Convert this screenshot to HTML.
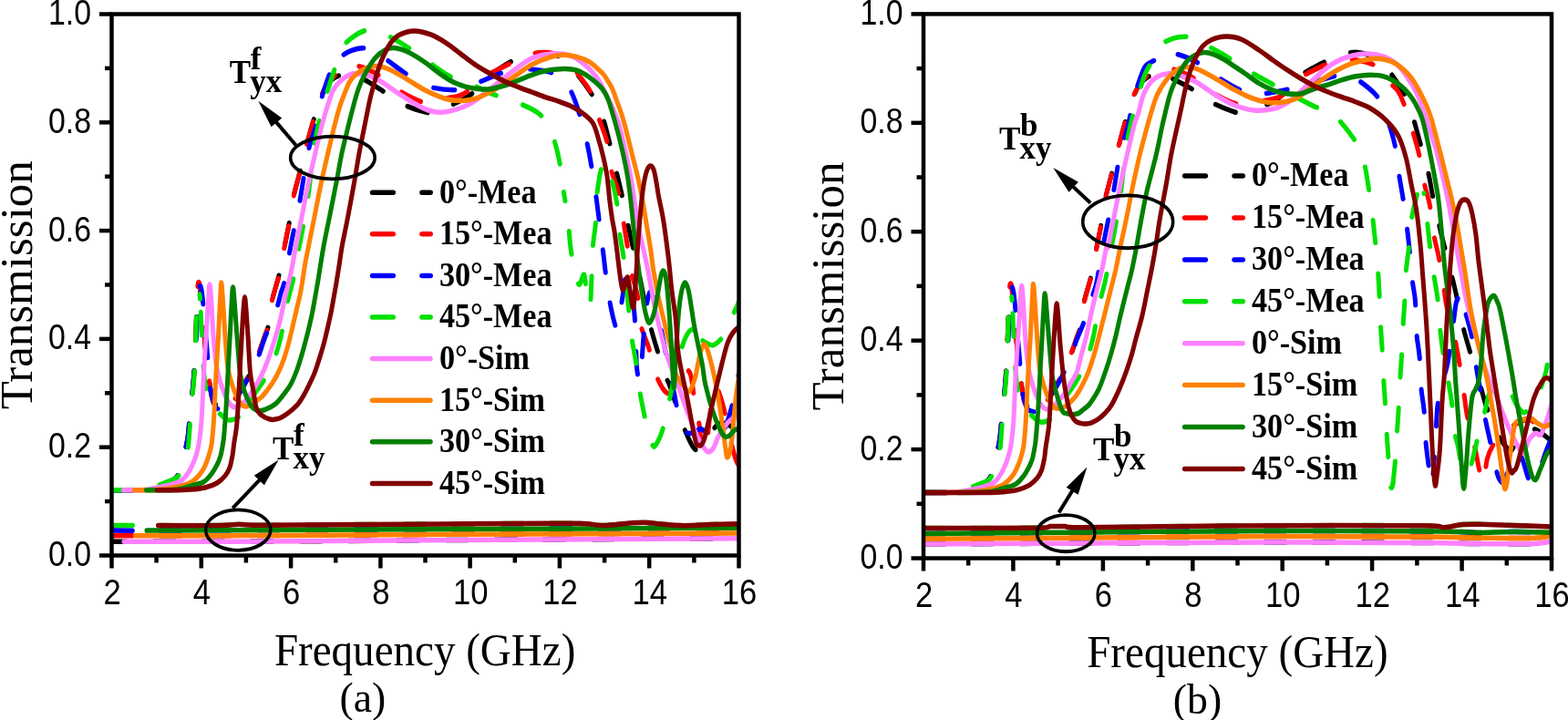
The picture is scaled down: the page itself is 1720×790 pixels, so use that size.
<!DOCTYPE html>
<html><head><meta charset="utf-8"><title>Transmission vs Frequency</title>
<style>
html,body{margin:0;padding:0;background:#fff;width:1720px;height:790px;overflow:hidden}
svg{display:block}
.tk{font-family:"Liberation Sans",Arial,sans-serif;font-size:35px;fill:#000;stroke:none}
.ti{font-family:"Liberation Serif","Times New Roman",serif;font-size:50px;fill:#000;stroke:none}
.lg{font-family:"Liberation Serif","Times New Roman",serif;font-size:34px;font-weight:bold;fill:#000}
.an{font-family:"Liberation Serif","Times New Roman",serif;font-size:35px;font-weight:bold;fill:#000}
.ln{fill:none;stroke-width:5;stroke-linecap:round;stroke-linejoin:round}
.dash{stroke-dasharray:23 30.5}
</style></head><body>
<svg width="1720" height="790" viewBox="0 0 1720 790">
<defs><clipPath id="ca"><rect x="122.5" y="15.5" width="688.0" height="594.0"/></clipPath>
<clipPath id="cb"><rect x="1013.0" y="15.4" width="689.0" height="597.1"/></clipPath></defs>
<g clip-path="url(#ca)"><g transform="scale(1,1.100)"><path id="a0" d="M122.5,488.9 C128.8,488.9 151.2,489.1 160.0,488.6 C168.8,488.2 170.5,487.7 175.0,486.4 C179.5,485.1 183.7,482.9 187.0,480.9 C190.3,478.9 192.8,477.4 195.0,474.5 C197.2,471.7 198.7,467.7 200.0,463.6 C201.3,459.5 202.0,454.5 203.0,450.0 C204.0,445.5 205.2,441.7 206.0,436.4 C206.8,431.1 207.3,424.2 208.0,418.2 C208.7,412.1 209.3,406.1 210.0,400.0 C210.7,393.9 211.4,388.6 212.0,381.8 C212.6,375.0 213.0,368.2 213.5,359.1 C214.0,350.0 214.5,337.1 215.0,327.3 C215.5,317.4 216.0,307.4 216.5,300.0 C217.0,292.6 217.4,284.2 218.0,282.7 C218.6,281.2 219.2,284.2 220.0,290.9" stroke="#000000" class="ln dash" style="stroke-dashoffset:0.3"/>
<path id="a0_1" d="M220.0,290.9 C220.8,297.6 222.0,312.1 223.0,322.7 C224.0,333.3 225.0,345.6 226.0,354.5 C227.0,363.5 227.8,369.2 229.0,376.4 C230.2,383.5 231.2,392.3 233.0,397.3 C234.8,402.3 237.5,404.7 240.0,406.4 C242.5,408.0 245.2,408.3 248.0,407.3 C250.8,406.2 253.2,404.8 257.0,400.0 C260.8,395.2 266.7,385.8 271.0,378.2 C275.3,370.6 279.8,361.5 283.0,354.5 C286.2,347.6 288.0,341.7 290.0,336.4 C292.0,331.1 293.7,328.5 295.0,322.7 C296.3,317.0 296.7,308.2 298.0,301.8 C299.3,295.5 301.7,289.1 303.0,284.5 C304.3,280.0 304.5,280.9 306.0,274.5 C307.5,268.2 310.2,254.8 312.0,246.4 C313.8,237.9 315.3,232.0 317.0,223.6 C318.7,215.3 320.5,203.3 322.0,196.4 C323.5,189.4 324.7,186.5 326.0,181.8 C327.3,177.1 328.3,174.1 330.0,168.2 C331.7,162.3 333.8,154.2 336.0,146.4 C338.2,138.5 340.8,129.3 343.5,121.3 C346.2,113.2 349.8,103.8 352.0,98.2 C354.2,92.5 355.1,90.4 357.0,87.3 C358.9,84.2 361.4,81.5 363.7,79.6 C366.0,77.7 367.5,77.0 370.7,75.8 C373.9,74.7 378.1,72.1 383.0,72.7 C387.9,73.4 394.1,76.8 400.0,79.6 C405.9,82.5 410.7,85.5 418.1,89.7 C425.5,94.0 436.5,101.3 444.6,105.0 C452.8,108.7 461.4,110.6 467.0,111.9 C472.6,113.2 473.4,113.9 478.0,112.7 C482.6,111.6 488.6,108.0 494.9,105.0 C501.2,102.0 509.4,99.3 515.8,94.8 C522.1,90.3 526.2,83.4 533.0,78.2 C539.8,73.0 550.3,67.1 556.5,63.6 C562.7,60.2 565.2,58.9 570.0,57.3 C574.8,55.6 580.0,54.4 585.0,53.6 C590.0,52.9 595.1,52.1 600.0,52.7 C604.9,53.3 609.2,54.1 614.4,57.3 C619.6,60.5 625.6,66.2 631.2,72.0 C636.8,77.8 643.9,86.8 647.9,92.3 C651.9,97.7 652.7,100.1 655.0,104.5 C657.3,109.0 659.6,112.6 661.9,119.1 C664.2,125.6 666.6,135.0 669.0,143.6 C671.4,152.3 673.8,162.6 676.0,170.9 C678.2,179.2 680.0,185.2 682.0,193.6 C684.0,202.1 686.2,212.8 688.3,221.6 C690.3,230.5 692.3,238.8 694.3,246.5 C696.2,254.3 698.0,260.0 700.0,268.2 C702.0,276.3 703.8,285.9 706.0,295.5 C708.2,305.0 711.1,316.7 713.5,325.5 C715.9,334.2 717.8,339.7 720.6,348.0 C723.4,356.3 728.1,369.4 730.4,375.5 C732.7,381.5 732.7,379.7 734.6,384.5 C736.5,389.4 739.5,397.8 742.0,404.5 C744.5,411.3 746.5,418.2 749.4,424.8 C752.3,431.4 756.6,440.4 759.2,444.3 C761.8,448.2 762.4,449.2 765.0,448.2 C767.6,447.2 771.7,442.0 775.0,438.2 C778.3,434.4 782.2,428.2 785.0,425.5 C787.8,422.7 789.2,421.8 792.0,421.8 C794.8,421.8 798.8,423.3 802.0,425.5 C805.2,427.6 809.5,433.0 811.0,434.5" stroke="#000000" class="ln dash" style="stroke-dashoffset:15.6"/>
<path id="a1" d="M122.5,488.9 C128.8,488.9 151.2,489.1 160.0,488.6 C168.8,488.2 170.5,487.7 175.0,486.4 C179.5,485.1 183.7,482.9 187.0,480.9 C190.3,478.9 192.8,477.4 195.0,474.5 C197.2,471.7 198.7,467.7 200.0,463.6 C201.3,459.5 202.0,454.5 203.0,450.0 C204.0,445.5 205.2,441.7 206.0,436.4 C206.8,431.1 207.3,424.2 208.0,418.2 C208.7,412.1 209.3,406.1 210.0,400.0 C210.7,393.9 211.4,388.6 212.0,381.8 C212.6,375.0 213.0,368.2 213.5,359.1 C214.0,350.0 214.6,337.1 215.0,327.3 C215.4,317.4 215.6,307.6 216.0,300.0 C216.4,292.4 216.8,283.3 217.5,281.8 C218.2,280.3 219.1,284.1 220.0,290.9" stroke="#ff0000" class="ln dash" style="stroke-dashoffset:0.3"/>
<path id="a1_1" d="M220.0,290.9 C220.9,297.7 222.0,312.1 223.0,322.7 C224.0,333.3 225.0,345.6 226.0,354.5 C227.0,363.5 227.8,368.9 229.0,376.4 C230.2,383.8 231.2,393.9 233.0,399.1 C234.8,404.2 237.5,405.8 240.0,407.3 C242.5,408.8 245.2,409.5 248.0,408.2 C250.8,406.8 253.2,404.2 257.0,399.1 C260.8,393.9 266.7,384.8 271.0,377.3 C275.3,369.7 279.8,360.5 283.0,353.6 C286.2,346.8 288.0,341.5 290.0,336.4 C292.0,331.2 293.7,328.5 295.0,322.7 C296.3,317.0 296.7,308.2 298.0,301.8 C299.3,295.5 301.7,289.1 303.0,284.5 C304.3,280.0 304.5,280.9 306.0,274.5 C307.5,268.2 310.2,254.8 312.0,246.4 C313.8,237.9 315.3,232.0 317.0,223.6 C318.7,215.3 320.5,203.3 322.0,196.4 C323.5,189.4 324.7,186.5 326.0,181.8 C327.3,177.1 328.3,174.2 330.0,168.2 C331.7,162.2 333.8,153.8 336.0,146.0 C338.2,138.2 341.1,128.9 343.5,121.3 C345.9,113.6 348.4,105.4 350.5,100.0 C352.6,94.6 353.4,93.0 356.0,89.1 C358.6,85.2 362.3,80.3 366.0,76.4 C369.7,72.4 373.7,67.2 378.0,65.5 C382.3,63.7 386.1,64.4 391.6,65.6 C397.1,66.8 403.5,68.5 411.2,72.6 C418.9,76.8 429.3,85.6 437.7,90.4 C446.1,95.1 455.2,99.1 461.4,101.2 C467.6,103.2 470.1,103.3 475.0,102.7 C479.9,102.2 485.1,99.5 490.7,98.0 C496.3,96.5 501.7,97.2 508.8,93.5 C515.9,89.8 525.4,80.7 533.5,75.8 C541.6,71.0 550.8,67.5 557.2,64.4 C563.6,61.3 566.5,59.2 572.0,57.3 C577.5,55.3 584.0,53.3 590.0,52.7 C596.0,52.1 602.7,52.3 608.0,53.6 C613.3,55.0 617.3,57.1 622.0,60.9 C626.7,64.7 631.7,71.1 636.0,76.4 C640.3,81.6 644.6,85.6 648.0,92.3 C651.4,99.0 653.3,108.2 656.3,116.5 C659.3,124.7 663.7,133.2 666.0,141.8 C668.3,150.5 668.1,160.0 670.2,168.5 C672.3,176.9 676.1,182.8 678.6,192.6 C681.1,202.4 683.3,217.7 685.0,227.3 C686.7,236.8 687.8,242.8 689.0,250.0 C690.2,257.2 690.5,263.2 692.2,270.6 C693.9,278.1 697.5,286.0 699.3,294.8 C701.1,303.7 700.7,315.1 702.8,323.8 C704.9,332.5 708.9,338.8 711.7,347.2 C714.5,355.5 716.7,366.8 719.7,374.0 C722.7,381.2 726.7,387.6 729.6,390.5 C732.5,393.3 734.3,393.3 737.0,390.9 C739.7,388.6 743.5,380.0 746.0,376.4 C748.5,372.7 750.1,369.5 752.0,369.1 C753.9,368.7 756.0,369.2 757.6,374.0 C759.2,378.8 760.1,389.2 761.7,397.9 C763.4,406.6 766.2,417.9 767.5,426.4 C768.8,434.8 768.7,444.6 769.5,448.8 C770.3,453.1 771.5,452.6 772.5,451.8 C773.5,451.1 774.9,448.5 775.7,444.3 C776.5,440.0 776.2,435.0 777.3,426.4 C778.3,417.8 780.7,399.5 782.0,392.7 C783.3,385.9 783.9,385.6 785.0,385.5 C786.1,385.3 787.3,388.3 788.8,391.9 C790.3,395.5 792.1,400.7 793.8,406.9 C795.5,413.1 797.6,423.4 799.0,429.1 C800.4,434.8 800.7,436.5 802.0,441.3 C803.3,446.0 805.4,453.7 806.9,457.7 C808.4,461.8 810.3,464.2 811.0,465.5" stroke="#ff0000" class="ln dash" style="stroke-dashoffset:17.1"/>
<path id="a2" d="M122.5,488.9 C128.8,488.9 151.2,489.1 160.0,488.6 C168.8,488.2 170.5,487.7 175.0,486.4 C179.5,485.1 183.7,482.9 187.0,480.9 C190.3,478.9 192.8,477.4 195.0,474.5 C197.2,471.7 198.7,467.7 200.0,463.6 C201.3,459.5 202.0,454.5 203.0,450.0 C204.0,445.5 205.2,441.7 206.0,436.4 C206.8,431.1 207.3,424.2 208.0,418.2 C208.7,412.1 209.3,406.1 210.0,400.0 C210.7,393.9 211.3,388.6 212.0,381.8 C212.7,375.0 213.3,368.2 214.0,359.1 C214.7,350.0 215.4,337.1 216.0,327.3 C216.6,317.4 216.9,307.0 217.5,300.0 C218.1,293.0 218.8,286.2 219.5,285.5" stroke="#0000ff" class="ln dash" style="stroke-dashoffset:0.3"/>
<path id="a2_1" d="M219.5,285.5 C220.2,284.7 221.1,288.5 222.0,295.5 C222.9,302.4 224.0,316.7 225.0,327.3 C226.0,337.9 227.2,349.5 228.0,359.1 C228.8,368.6 229.0,377.7 230.0,384.5 C231.0,391.4 232.7,396.2 234.0,400.0 C235.3,403.8 235.7,405.9 238.0,407.3 C240.3,408.6 244.8,409.4 248.0,408.2 C251.2,407.0 253.2,404.8 257.0,400.0 C260.8,395.2 266.7,386.4 271.0,379.1" stroke="#0000ff" class="ln dash" style="stroke-dashoffset:4.4"/>
<path id="a2_2" d="M271.0,379.1 C275.3,371.8 279.8,363.2 283.0,356.4 C286.2,349.5 287.7,343.8 290.0,338.2 C292.3,332.6 294.7,328.0 297.0,322.7 C299.3,317.4 302.2,311.4 304.0,306.4 C305.8,301.4 306.7,297.0 308.0,292.7 C309.3,288.5 310.5,287.3 312.0,280.9 C313.5,274.5 315.4,262.7 317.1,254.3 C318.8,245.8 320.3,238.8 322.2,230.2 C324.1,221.6 326.8,210.6 328.5,202.5 C330.2,194.5 330.6,190.7 332.3,181.8 C334.0,173.0 336.2,158.7 338.5,149.5 C340.8,140.2 343.8,134.9 346.1,126.5 C348.5,118.0 350.2,106.9 352.6,98.6 C355.0,90.4 358.0,82.6 360.2,77.1 C362.4,71.6 363.6,69.0 366.0,65.5" stroke="#0000ff" class="ln dash" style="stroke-dashoffset:24.9"/>
<path id="a2_3" d="M366.0,65.5 C368.4,62.0 371.7,58.6 374.9,56.1 C378.1,53.6 381.1,51.8 385.0,50.5 C388.9,49.1 394.4,47.8 398.6,47.9 C402.8,48.0 405.8,49.0 410.0,50.9 C414.2,52.8 417.9,55.5 423.7,59.3 C429.5,63.0 438.6,69.5 444.6,73.3 C450.7,77.0 455.1,79.5 460.0,81.8" stroke="#0000ff" class="ln dash" style="stroke-dashoffset:37.9"/>
<path id="a2_4" d="M460.0,81.8 C464.9,84.2 467.7,86.0 474.0,87.3 C480.3,88.6 491.7,89.7 497.7,89.7 C503.7,89.7 505.4,88.5 510.0,87.3 C514.6,86.0 518.6,84.4 525.1,82.1 C531.6,79.8 542.1,75.4 548.8,73.3 C555.4,71.1 559.9,69.8 565.0,69.1" stroke="#0000ff" class="ln dash" style="stroke-dashoffset:36.6"/>
<path id="a2_5" d="M565.0,69.1 C570.1,68.3 573.1,68.3 579.5,68.8 C585.9,69.3 597.4,70.4 603.3,72.0 C609.2,73.6 611.3,75.2 615.0,78.2 C618.7,81.1 622.2,84.0 625.6,89.7 C629.0,95.5 632.3,103.9 635.3,112.5" stroke="#0000ff" class="ln dash" style="stroke-dashoffset:36.6"/>
<path id="a2_6" d="M635.3,112.5 C638.3,121.2 641.5,133.1 643.7,141.8 C645.9,150.5 647.0,156.1 648.6,164.7 C650.2,173.4 652.1,184.7 653.5,193.6 C654.9,202.5 655.6,208.0 657.0,218.2 C658.4,228.3 660.8,245.9 662.0,254.5 C663.2,263.2 663.0,262.8 664.0,270.0 C665.0,277.2 666.7,289.6 668.3,298.0 C669.9,306.4 672.1,315.7 673.6,320.5 C675.1,325.4 675.9,328.4 677.0,327.3 C678.1,326.1 679.0,318.9 680.0,313.6 C681.0,308.3 682.0,301.5 683.0,295.5 C684.0,289.4 685.0,280.8 686.0,277.3 C687.0,273.8 688.0,272.3 689.0,274.5 C690.0,276.8 690.9,284.7 692.0,290.9 C693.1,297.1 694.9,303.1 695.8,311.8 C696.7,320.5 697.1,334.2 697.5,343.2 C697.9,352.1 697.9,359.8 698.4,365.5 C698.9,371.1 699.8,375.3 700.5,377.3 C701.2,379.2 702.1,381.1 702.8,377.0 C703.5,372.9 703.9,361.5 704.6,352.7 C705.3,344.0 706.1,333.2 707.0,324.5 C707.9,315.9 708.8,306.5 710.0,300.9 C711.2,295.3 712.5,290.3 714.0,290.9 C715.5,291.5 717.0,297.7 719.0,304.5 C721.0,311.4 723.9,323.2 725.9,331.8 C727.9,340.4 728.9,346.0 731.2,356.0 C733.5,366.0 737.6,383.4 739.5,391.9 C741.4,400.4 740.9,400.7 742.8,406.9 C744.7,413.2 748.1,425.2 751.0,429.4 C753.9,433.5 757.0,432.1 760.0,431.8 C763.0,431.6 765.9,427.2 769.1,427.8 C772.3,428.4 775.7,433.5 779.0,435.3 C782.3,437.0 785.8,440.4 788.8,438.3 C791.8,436.2 794.5,428.7 797.0,422.7 C799.5,416.7 801.8,409.5 803.7,402.4 C805.6,395.2 807.4,385.2 808.6,380.0 C809.8,374.8 810.6,372.4 811.0,370.9" stroke="#0000ff" class="ln dash" style="stroke-dashoffset:21.2"/>
<path id="a3" d="M122.5,488.9 C127.1,488.9 142.9,488.9 150.0,488.6 C157.1,488.4 161.0,488.0 165.0,487.3 C169.0,486.5 170.7,485.3 174.0,484.1 C177.3,482.9 181.7,481.3 185.0,480.0 C188.3,478.7 191.7,478.2 194.0,476.4 C196.3,474.5 197.5,472.3 199.0,469.1 C200.5,465.9 201.8,460.8 203.0,457.3 C204.2,453.8 205.2,452.0 206.0,448.2 C206.8,444.4 207.1,438.8 207.5,434.5 C207.9,430.3 208.0,428.5 208.5,422.7 C209.0,417.0 209.8,406.8 210.5,400.0 C211.2,393.2 212.0,387.1 212.5,381.8 C213.0,376.5 213.2,374.2 213.5,368.2 C213.8,362.1 214.2,354.5 214.5,345.5 C214.8,336.4 215.0,322.7 215.5,313.6 C216.0,304.5 216.8,293.5 217.5,290.9 C218.2,288.3 218.9,292.1 219.5,298.2" stroke="#00e000" class="ln dash" style="stroke-dashoffset:0.3"/>
<path id="a3_1" d="M219.5,298.2 C220.1,304.2 220.4,316.4 221.0,327.3 C221.6,338.2 222.2,353.3 223.0,363.6 C223.8,373.9 224.7,382.4 226.0,389.1 C227.3,395.8 228.8,400.0 231.0,403.6 C233.2,407.3 236.5,408.8 239.0,410.9 C241.5,413.0 243.8,415.0 246.0,416.4 C248.2,417.7 249.3,419.2 252.0,419.1 C254.7,418.9 258.3,418.8 262.0,415.5" stroke="#00e000" class="ln dash" style="stroke-dashoffset:40.2"/>
<path id="a3_2" d="M262.0,415.5 C265.7,412.1 269.5,405.0 274.0,399.1 C278.5,393.2 284.7,386.5 289.0,380.0 C293.3,373.5 296.8,367.3 300.0,360.0 C303.2,352.7 305.5,345.9 308.0,336.4 C310.5,326.8 312.7,312.6 315.0,302.7 C317.3,292.9 320.0,285.9 322.0,277.3 C324.0,268.6 325.5,259.3 327.2,250.9 C328.9,242.5 330.5,236.0 332.3,226.7 C334.1,217.5 336.6,204.5 338.0,195.5 C339.4,186.5 339.9,181.2 341.0,172.7 C342.1,164.3 343.3,153.4 344.8,144.9 C346.3,136.4 347.7,130.2 349.9,121.8 C352.1,113.4 355.3,102.9 358.0,94.5 C360.7,86.2 363.0,79.7 366.0,71.8 C369.0,63.9 372.3,53.2 376.0,47.3 C379.7,41.4 384.2,39.1 388.0,36.4 C391.8,33.6 395.3,32.0 399.0,30.9 C402.7,29.8 405.7,29.2 410.0,30.0 C414.3,30.8 419.0,32.7 425.0,35.5 C431.0,38.2 438.5,42.0 446.0,46.4 C453.5,50.8 462.3,57.0 470.0,61.8 C477.7,66.7 486.0,72.3 492.0,75.5 C498.0,78.6 501.2,79.2 506.0,80.9 C510.8,82.7 514.7,83.6 520.9,85.9 C527.1,88.2 534.9,91.8 543.3,94.8 C551.7,97.8 563.5,100.9 571.2,103.8 C578.9,106.7 584.5,108.9 589.3,112.1 C594.1,115.2 596.9,118.1 600.0,122.7 C603.1,127.4 605.7,133.4 608.0,140.0 C610.3,146.6 612.3,153.8 614.0,162.4 C615.7,171.0 616.8,182.7 618.3,191.5" stroke="#00e000" class="ln dash" style="stroke-dashoffset:31.3"/>
<path id="a3_3" d="M618.3,191.5 C619.8,200.4 621.5,206.5 622.7,215.4 C623.9,224.2 624.5,235.9 625.6,244.5 C626.7,253.2 628.3,261.4 629.5,267.3 C630.7,273.2 631.9,277.3 633.0,280.0 C634.1,282.7 634.8,284.7 636.0,283.6 C637.2,282.6 639.4,273.2 640.5,273.6 C641.6,274.0 642.0,281.4 642.8,286.1 C643.5,290.8 644.4,298.6 645.0,301.8 C645.6,305.0 646.0,305.6 646.5,305.5 C647.0,305.3 647.4,305.8 647.8,300.9 C648.2,296.1 648.6,285.3 649.0,276.4 C649.4,267.4 649.5,256.1 650.2,247.3 C650.9,238.4 652.5,231.9 653.3,223.3 C654.0,214.6 653.8,204.3 654.7,195.5 C655.7,186.6 657.5,176.0 659.0,170.4 C660.5,164.8 662.0,160.5 664.0,161.8 C666.0,163.1 668.6,171.5 670.7,178.2 C672.8,184.9 675.1,193.2 676.6,202.1 C678.1,210.9 678.3,222.4 679.5,231.3 C680.7,240.1 682.5,246.7 683.8,255.1 C685.0,263.5 686.0,273.0 687.0,281.8 C688.0,290.6 688.5,298.5 689.5,307.7 C690.5,317.0 691.7,328.4 693.0,337.3 C694.3,346.1 696.1,352.3 697.5,360.9 C698.9,369.5 700.1,380.4 701.6,389.1 C703.1,397.8 705.0,405.6 706.6,412.9 C708.2,420.2 709.4,427.5 711.0,432.7 C712.6,438.0 714.6,442.5 716.0,444.3 C717.4,446.1 717.6,446.4 719.5,443.6 C721.4,440.9 724.6,435.4 727.1,427.8 C729.6,420.2 732.5,406.8 734.6,397.9 C736.8,389.0 737.8,382.9 740.0,374.5 C742.2,366.2 745.1,354.7 747.6,347.5 C750.1,340.4 752.8,334.5 755.2,331.5 C757.6,328.4 759.7,328.0 762.0,329.1" stroke="#00e000" class="ln dash" style="stroke-dashoffset:13.9"/>
<path id="a3_4" d="M762.0,329.1 C764.3,330.2 767.0,336.1 769.0,338.2 C771.0,340.3 771.9,340.8 774.2,341.8 C776.5,342.8 779.6,345.5 783.0,344.1 C786.4,342.7 790.6,339.2 794.4,333.6 C798.2,328.1 803.0,316.3 805.8,310.7 C808.6,305.1 810.1,301.8 811.0,300.0" stroke="#00e000" class="ln dash" style="stroke-dashoffset:39.6"/>
<path id="a4" d="M122.5,524.2 C131.0,524.2 153.9,524.2 173.5,524.2 C193.1,524.2 225.2,524.3 240.0,524.1 C254.8,523.9 254.5,523.0 262.0,522.9 C269.5,522.9 262.0,523.8 285.0,523.8 C308.0,523.9 347.5,523.5 400.0,523.2 C452.5,522.9 560.0,522.2 600.0,522.1 C640.0,521.9 629.5,521.9 640.0,522.3 C650.5,522.6 654.7,524.2 663.0,524.1 C671.3,524.0 682.7,522.3 690.0,521.8 C697.3,521.3 701.2,520.9 707.0,521.1 C712.8,521.2 718.3,522.2 725.0,522.7 C731.7,523.2 737.8,524.1 747.0,524.2 C756.2,524.3 769.3,523.5 780.0,523.2 C790.7,522.9 805.8,522.7 811.0,522.5" stroke="#00e000" class="ln dash" style="stroke-dashoffset:0.0"/>
<path id="a5" d="M122.5,529.2 C128.9,529.2 131.4,529.3 161.0,529.2 C190.6,529.1 243.5,528.9 300.0,528.6 C356.5,528.4 414.8,528.1 500.0,527.7 C585.2,527.4 759.2,526.7 811.0,526.5" stroke="#0000ff" class="ln dash" style="stroke-dashoffset:0.0"/>
<path id="a6" d="M122.5,534.4 C126.8,534.4 118.9,534.4 148.5,534.4 C178.1,534.3 241.4,534.3 300.0,534.1 C358.6,533.9 414.8,533.4 500.0,533.0 C585.2,532.6 759.2,532.0 811.0,531.8" stroke="#ff0000" class="ln dash" style="stroke-dashoffset:0.0"/>
<path id="a7" d="M122.5,540.3 C124.8,540.3 106.4,540.3 136.0,540.3 C165.6,540.2 239.3,540.3 300.0,540.0 C360.7,539.7 414.8,539.1 500.0,538.6 C585.2,538.2 759.2,537.3 811.0,537.1" stroke="#000000" class="ln dash" style="stroke-dashoffset:0.0"/>
<path id="a8" d="M135.5,488.9 C139.6,488.9 154.2,489.0 160.0,488.6 C165.8,488.3 166.7,487.4 170.0,486.8 C173.3,486.2 176.7,485.7 180.0,485.0 C183.3,484.3 186.7,483.8 190.0,482.7 C193.3,481.7 197.2,480.6 200.0,478.6 C202.8,476.7 205.0,473.7 207.0,470.9 C209.0,468.1 210.7,464.5 212.0,461.8 C213.3,459.1 214.0,457.6 215.0,454.5 C216.0,451.5 217.1,448.5 218.0,443.6 C218.9,438.8 219.9,431.5 220.5,425.5 C221.1,419.4 221.3,416.1 221.8,407.3 C222.3,398.5 222.8,384.7 223.5,372.7 C224.2,360.8 225.2,347.6 226.0,335.5 C226.8,323.3 227.8,308.6 228.5,300.0 C229.2,291.4 229.4,283.6 230.0,283.6 C230.6,283.6 231.1,291.4 231.8,300.0 C232.5,308.6 233.2,325.6 234.0,335.5 C234.8,345.3 235.7,353.0 236.5,359.1 C237.3,365.2 237.6,366.7 239.0,371.8 C240.4,377.0 242.8,384.8 245.0,390.0 C247.2,395.2 249.8,400.0 252.0,402.7 C254.2,405.5 255.8,406.2 258.0,406.4 C260.2,406.5 262.2,405.9 265.0,403.6 C267.8,401.4 270.8,398.6 275.0,392.7 C279.2,386.8 285.0,379.1 290.0,368.2 C295.0,357.3 301.2,339.4 305.0,327.3 C308.8,315.2 310.7,304.5 313.0,295.5 C315.3,286.4 317.1,281.1 319.0,272.7 C320.9,264.3 322.7,254.5 324.7,245.1 C326.7,235.7 328.7,226.9 331.0,216.4 C333.3,205.8 336.1,192.6 338.6,181.8 C341.1,171.1 343.6,161.6 346.1,151.8 C348.6,142.0 351.2,131.6 353.7,123.0 C356.2,114.4 359.2,105.7 361.3,100.0 C363.4,94.3 364.2,92.1 366.0,89.1 C367.8,86.1 369.5,84.4 372.1,82.1 C374.8,79.8 378.6,76.7 381.9,75.2 C385.1,73.7 387.7,73.2 391.6,73.3 C395.6,73.4 401.0,74.3 405.6,75.8 C410.2,77.3 414.9,79.6 419.5,82.1 C424.1,84.6 427.7,87.5 433.5,91.0 C439.3,94.5 448.3,100.0 454.4,103.2 C460.5,106.3 465.1,108.5 470.0,110.0 C474.9,111.5 479.0,112.1 483.5,112.1 C488.0,112.1 492.6,111.0 497.0,110.0 C501.4,109.0 506.0,107.5 510.0,105.9 C514.0,104.3 515.6,103.8 520.9,100.5 C526.2,97.1 534.9,90.9 541.9,85.9 C548.9,81.0 555.8,75.4 562.8,70.7 C569.8,66.1 576.7,60.8 583.7,58.0 C590.7,55.2 597.6,54.1 604.6,53.6 C611.6,53.2 619.8,53.9 625.6,55.5 C631.4,57.0 634.9,59.7 639.5,63.1 C644.1,66.5 649.9,71.8 653.5,75.8 C657.1,79.8 658.9,83.8 661.0,87.3 C663.1,90.7 664.2,93.0 666.0,96.4 C667.8,99.7 669.8,102.6 672.0,107.3 C674.2,112.0 676.7,117.3 679.0,124.5 C681.3,131.8 683.8,142.1 686.0,150.9 C688.2,159.7 690.2,168.5 692.0,177.3 C693.8,186.1 695.1,195.3 696.5,203.6 C697.9,212.0 699.1,220.3 700.5,227.3 C701.9,234.2 703.2,238.2 705.0,245.5 C706.8,252.7 708.8,260.6 711.0,270.9 C713.2,281.2 716.0,296.4 718.5,307.3 C721.0,318.1 723.9,328.3 726.0,336.0 C728.1,343.7 729.3,347.9 731.1,353.3 C732.9,358.6 735.0,363.5 737.0,368.2 C739.0,372.9 739.9,374.3 742.8,381.5 C745.7,388.7 750.5,402.1 754.3,411.4 C758.1,420.6 762.2,430.3 765.8,436.8 C769.4,443.3 773.0,448.5 775.7,450.3 C778.5,452.0 780.4,449.5 782.3,447.3 C784.2,445.0 785.6,439.8 787.2,436.8 C788.8,433.8 790.0,432.2 792.1,429.4 C794.2,426.6 796.9,422.6 800.0,420.0 C803.1,417.4 809.2,414.7 811.0,413.6" stroke="#ff80ff" class="ln"/>
<path id="a9" d="M147.5,488.9 C151.2,488.9 163.8,488.9 170.0,488.6 C176.2,488.4 180.0,488.0 185.0,487.3 C190.0,486.6 195.8,485.6 200.0,484.5 C204.2,483.5 207.0,482.6 210.0,480.9 C213.0,479.2 215.7,477.0 218.0,474.5 C220.3,472.1 222.2,469.7 224.0,466.4 C225.8,463.0 227.7,458.3 229.0,454.5 C230.3,450.8 231.2,448.5 232.0,443.6 C232.8,438.8 233.5,431.5 234.0,425.5 C234.5,419.4 234.7,416.1 235.2,407.3 C235.7,398.5 236.3,384.7 237.0,372.7 C237.7,360.8 238.8,347.6 239.5,335.5 C240.2,323.3 240.9,308.9 241.5,300.0 C242.1,291.1 242.3,281.8 242.8,281.8 C243.3,281.8 243.8,291.1 244.5,300.0 C245.2,308.9 246.2,325.6 247.0,335.5 C247.8,345.3 248.3,353.0 249.0,359.1 C249.7,365.2 249.7,366.7 251.0,371.8 C252.3,377.0 254.8,384.8 257.0,390.0 C259.2,395.2 261.8,400.2 264.0,402.7 C266.2,405.3 268.0,405.5 270.0,405.5 C272.0,405.5 274.3,403.6 276.0,402.7 C277.7,401.9 278.2,401.4 280.0,400.3 C281.8,399.2 284.5,398.1 286.8,396.1 C289.1,394.1 291.7,390.9 294.0,388.2 C296.3,385.4 298.4,382.7 300.5,379.5 C302.6,376.4 304.6,372.9 306.5,369.1 C308.4,365.3 310.1,361.5 311.9,356.8 C313.6,352.1 315.5,346.1 317.0,340.9 C318.5,335.7 319.7,330.9 321.0,325.7 C322.3,320.6 323.7,315.2 325.0,310.0 C326.3,304.8 327.8,299.9 329.0,294.7 C330.2,289.6 331.1,284.3 332.0,279.1 C332.9,273.9 333.5,269.3 334.6,263.6 C335.7,258.0 336.9,253.0 338.6,245.1 C340.3,237.2 342.6,226.9 344.9,216.4 C347.2,205.8 350.0,192.6 352.5,181.8 C355.0,171.1 357.5,161.6 360.0,151.8 C362.5,142.0 365.4,130.7 367.6,123.0 C369.8,115.3 371.1,110.8 373.0,105.5 C374.9,100.1 377.1,95.2 379.0,90.9 C380.9,86.7 382.0,83.3 384.6,80.0 C387.2,76.7 390.9,73.6 394.4,71.4 C397.9,69.2 402.3,67.7 405.6,66.8 C408.9,65.9 410.3,65.5 414.0,65.9 C417.7,66.3 422.3,67.2 427.9,69.5 C433.5,71.7 440.6,76.0 447.4,79.6 C454.1,83.2 461.4,87.8 468.4,91.0 C475.4,94.2 483.0,97.0 489.3,98.6 C495.6,100.2 500.7,100.5 506.0,100.5 C511.3,100.5 514.9,100.4 520.9,98.6 C526.9,96.8 534.9,93.3 541.9,89.7 C548.9,86.1 555.8,81.3 562.8,77.1 C569.8,72.9 576.7,67.8 583.7,64.4 C590.7,61.0 598.8,58.3 604.6,56.7 C610.4,55.1 613.9,54.8 618.6,54.8 C623.3,54.8 628.0,55.6 632.6,56.7 C637.2,57.9 641.9,59.2 646.5,61.8 C651.1,64.5 657.5,70.1 660.5,72.7 C663.5,75.4 663.0,75.3 664.7,77.7 C666.5,80.2 669.0,83.5 671.0,87.3 C673.0,91.0 674.7,96.1 676.4,100.2 C678.1,104.3 679.5,107.8 681.0,111.8 C682.5,115.8 683.2,117.6 685.1,124.0 C687.0,130.4 690.0,141.6 692.4,150.5 C694.8,159.3 697.5,168.1 699.7,176.9 C701.9,185.7 703.8,195.0 705.5,203.4 C707.2,211.7 708.5,219.9 709.8,227.2 C711.1,234.5 712.3,240.0 713.5,247.3 C714.7,254.6 715.3,261.9 717.0,270.9 C718.7,279.9 721.1,291.6 723.5,301.5 C725.9,311.3 728.8,321.6 731.1,330.3 C733.4,338.9 735.8,346.2 737.5,353.3 C739.2,360.3 739.1,367.3 741.1,372.5 C743.1,377.7 746.9,381.5 749.4,384.5 C751.9,387.5 753.7,391.7 755.9,390.5 C758.1,389.2 760.9,381.7 762.5,377.0 C764.1,372.3 764.6,366.8 765.8,362.0 C767.0,357.2 768.3,351.2 769.5,348.2 C770.7,345.1 771.7,342.9 773.0,343.6 C774.3,344.4 775.5,347.2 777.3,352.7 C779.1,358.3 781.7,367.2 783.9,377.0 C786.1,386.8 788.6,400.2 790.5,411.4 C792.4,422.6 794.2,436.8 795.4,444.3 C796.6,451.8 796.8,456.3 797.9,456.3 C799.0,456.3 800.8,451.3 802.0,444.3 C803.2,437.3 804.3,423.1 805.3,414.4 C806.3,405.6 806.8,398.8 807.8,391.9 C808.8,385.0 810.5,375.9 811.0,372.7" stroke="#ff8000" class="ln"/>
<path id="a10" d="M160.5,488.9 C165.4,488.9 183.4,488.9 190.0,488.6 C196.6,488.4 196.7,488.0 200.0,487.3 C203.3,486.6 206.2,485.6 210.0,484.5 C213.8,483.5 219.3,482.9 223.0,480.9 C226.7,478.9 229.5,475.6 232.0,472.7 C234.5,469.8 236.3,466.7 238.0,463.6 C239.7,460.6 240.8,458.5 242.0,454.5 C243.2,450.6 244.2,444.8 245.0,440.0 C245.8,435.2 246.0,430.9 246.5,425.5 C247.0,420.0 247.4,416.1 248.0,407.3 C248.6,398.5 249.3,384.7 250.0,372.7 C250.7,360.8 251.5,346.8 252.2,335.5 C252.9,324.1 253.4,312.7 254.0,304.5 C254.6,296.4 254.9,286.4 255.5,286.4 C256.1,286.4 256.8,296.4 257.5,304.5 C258.2,312.7 259.2,326.4 260.0,335.5 C260.8,344.5 261.4,352.9 262.0,359.1 C262.6,365.3 262.5,367.6 263.5,372.7 C264.5,377.9 265.9,384.5 268.0,390.0 C270.1,395.5 273.5,402.2 276.0,405.5 C278.5,408.7 280.8,408.9 283.0,409.5 C285.2,410.2 286.9,409.6 289.1,409.1 C291.3,408.6 293.7,407.5 296.0,406.4 C298.3,405.2 300.3,404.5 302.8,402.4 C305.3,400.2 308.4,396.7 311.0,393.6 C313.6,390.5 316.4,387.5 318.7,383.7 C321.0,379.9 323.1,375.4 325.0,370.9 C326.9,366.4 328.4,361.8 330.1,356.8 C331.8,351.8 333.5,346.1 335.0,340.9 C336.5,335.7 337.9,330.9 339.2,325.7 C340.5,320.6 341.9,315.2 343.0,310.0 C344.1,304.8 345.0,299.9 346.0,294.7 C347.0,289.6 348.1,284.3 349.0,279.1 C349.9,273.9 350.7,269.3 351.7,263.6 C352.7,258.0 353.5,253.0 355.1,245.1 C356.7,237.2 359.1,226.9 361.4,216.4 C363.7,205.8 366.7,192.6 369.0,181.8 C371.3,171.1 372.9,161.6 375.2,151.8 C377.5,142.0 380.7,130.9 382.8,123.0 C384.9,115.1 386.3,110.2 388.0,104.5 C389.7,98.9 391.0,94.1 393.0,89.1 C395.0,84.1 397.0,79.7 400.0,74.5 C403.0,69.4 407.5,62.3 411.2,58.2 C414.9,54.1 418.8,51.7 422.3,50.0 C425.8,48.3 427.9,47.4 432.1,47.7 C436.3,48.0 441.8,49.5 447.4,51.8 C453.0,54.2 459.8,58.2 465.6,61.8 C471.4,65.4 477.0,69.9 482.3,73.3 C487.6,76.7 492.4,79.8 497.7,82.1 C503.0,84.4 507.8,86.0 514.0,87.2 C520.2,88.3 527.9,89.5 534.9,89.1 C541.9,88.7 548.8,86.6 555.8,84.6 C562.8,82.6 569.7,79.4 576.7,77.1 C583.7,74.8 590.7,72.1 597.7,70.7 C604.7,69.3 612.8,68.7 618.6,68.6 C624.4,68.5 628.0,68.7 632.6,70.1 C637.2,71.5 641.9,74.0 646.5,77.1 C651.1,80.2 657.0,84.6 660.5,88.5 C664.0,92.3 664.9,93.8 667.4,100.0 C669.9,106.2 673.2,116.9 675.8,125.4 C678.4,133.8 680.7,142.3 682.8,150.7 C684.9,159.2 686.9,167.8 688.4,176.1 C689.9,184.3 690.7,190.9 691.9,200.2 C693.1,209.5 694.3,221.6 695.6,231.9 C696.9,242.3 698.3,252.4 699.7,262.3 C701.1,272.1 702.6,282.7 704.0,290.9 C705.4,299.2 706.6,306.6 708.0,311.8 C709.4,317.0 710.7,321.9 712.2,322.2 C713.7,322.5 715.5,318.0 717.0,313.6 C718.5,309.2 719.7,302.1 721.0,295.7 C722.3,289.4 723.9,279.7 725.0,275.5 C726.1,271.2 726.8,269.7 727.7,270.0 C728.6,270.3 729.5,271.1 730.5,277.3 C731.5,283.5 732.8,296.5 733.7,307.3 C734.7,318.0 735.5,331.7 736.2,341.8 C736.9,352.0 737.3,360.6 737.8,368.2 C738.3,375.8 738.7,387.3 739.2,387.3 C739.7,387.3 740.1,376.7 740.6,368.2 C741.1,359.7 741.8,346.5 742.5,336.4 C743.2,326.2 744.1,315.2 745.0,307.3 C745.9,299.4 746.9,293.3 748.0,289.1 C749.1,284.8 750.3,282.1 751.4,281.8 C752.5,281.5 753.6,285.0 754.5,287.3 C755.4,289.6 755.3,289.5 756.5,295.7 C757.7,301.9 759.8,315.9 761.5,324.5 C763.2,333.2 765.1,341.0 766.6,347.5 C768.1,354.1 769.2,357.5 770.4,363.6 C771.6,369.8 772.0,376.5 774.0,384.5 C776.0,392.4 779.3,403.4 782.3,411.4 C785.3,419.3 789.4,428.4 792.1,432.4 C794.8,436.3 796.5,435.8 798.7,435.3 C800.9,434.8 803.2,430.8 805.3,429.4 C807.3,428.0 810.0,427.2 811.0,426.8" stroke="#008000" class="ln"/>
<path id="a11" d="M172.5,488.9 C175.4,488.9 183.8,489.0 190.0,488.9 C196.2,488.8 204.2,488.6 210.0,488.2 C215.8,487.8 220.3,487.4 225.0,486.4 C229.7,485.3 234.3,483.8 238.0,481.8 C241.7,479.8 244.7,477.1 247.0,474.5 C249.3,472.0 250.7,469.7 252.0,466.4 C253.3,463.0 254.2,458.3 255.0,454.5 C255.8,450.8 255.8,448.5 256.5,443.6 C257.2,438.8 258.8,431.5 259.5,425.5 C260.2,419.4 260.4,416.1 261.0,407.3 C261.6,398.5 262.3,384.7 263.0,372.7 C263.7,360.8 264.5,346.1 265.2,335.5 C265.9,324.8 266.4,315.6 267.0,309.1 C267.6,302.6 268.0,296.4 268.5,296.4 C269.0,296.4 269.4,302.6 270.0,309.1 C270.6,315.6 271.2,325.0 272.0,335.5 C272.8,345.9 273.5,362.7 274.5,371.8 C275.5,380.9 276.9,384.2 278.0,390.0 C279.1,395.8 279.7,402.4 281.0,406.4 C282.3,410.3 283.5,411.7 286.0,413.6 C288.5,415.6 292.8,417.5 296.0,418.2 C299.2,418.9 301.8,418.6 305.0,417.7 C308.2,416.8 311.6,414.9 315.0,412.7 C318.4,410.5 322.5,407.6 325.5,404.5 C328.5,401.5 330.7,398.0 333.0,394.5 C335.3,391.1 337.1,387.7 339.2,383.7 C341.3,379.8 343.6,375.4 345.5,370.9 C347.4,366.4 348.9,361.7 350.6,356.8 C352.3,352.0 354.0,347.0 355.5,341.8 C357.0,336.6 358.4,331.0 359.7,325.7 C361.0,320.4 362.4,315.2 363.5,310.0 C364.6,304.8 365.5,299.9 366.5,294.7 C367.5,289.6 368.6,284.3 369.5,279.1 C370.4,273.9 371.2,269.3 372.2,263.6 C373.2,258.0 373.7,253.0 375.3,245.1 C376.9,237.2 379.4,226.9 381.6,216.4 C383.8,205.8 386.5,192.6 388.6,181.8 C390.7,171.1 392.2,161.6 394.2,151.8 C396.2,142.0 398.6,131.6 400.5,123.0 C402.4,114.4 404.1,106.1 405.6,100.0 C407.1,93.9 408.1,91.1 409.5,86.4 C410.9,81.7 412.3,76.5 414.0,71.8 C415.7,67.1 417.2,62.9 419.5,58.2 C421.8,53.5 424.9,47.5 427.9,43.6 C430.9,39.8 433.3,37.1 437.7,35.0 C442.1,32.9 448.6,31.0 454.4,30.9 C460.2,30.8 466.7,32.6 472.5,34.5 C478.3,36.5 483.7,39.5 489.3,42.8 C494.9,46.1 500.9,50.7 506.0,54.2 C511.1,57.7 515.2,60.8 520.0,63.7 C524.8,66.7 528.9,68.9 534.9,72.0 C540.9,75.1 548.8,79.1 555.8,82.1 C562.8,85.0 572.3,88.2 576.7,89.7 C581.1,91.3 578.7,90.2 582.2,91.4 C585.7,92.5 592.4,95.1 597.5,96.7 C602.6,98.3 607.6,99.4 612.6,101.0 C617.6,102.6 623.2,104.5 627.8,106.5 C632.4,108.6 636.2,110.7 640.0,113.5 C643.8,116.2 647.9,119.0 650.6,123.1 C653.3,127.2 654.4,132.4 656.3,138.1 C658.2,143.8 660.3,150.8 661.9,157.1 C663.5,163.4 664.9,168.9 666.0,176.1 C667.1,183.3 667.9,193.2 668.8,200.2 C669.7,207.2 670.6,212.9 671.5,218.2 C672.4,223.5 673.2,225.6 674.2,231.9 C675.2,238.3 676.6,248.7 677.6,256.3 C678.6,263.8 679.6,271.8 680.5,277.3 C681.4,282.7 682.1,288.0 683.0,289.1 C683.9,290.2 685.1,285.8 686.0,283.6 C686.9,281.5 687.7,275.5 688.5,276.4 C689.3,277.3 690.0,283.9 691.0,289.1 C692.0,294.2 693.5,307.0 694.4,307.3 C695.3,307.6 695.9,297.4 696.5,290.9 C697.1,284.4 697.7,276.0 698.2,268.2 C698.7,260.4 698.9,254.2 699.7,244.1 C700.5,234.0 701.9,218.0 703.0,207.6 C704.1,197.3 705.3,188.2 706.5,181.8 C707.7,175.4 708.8,171.8 710.0,169.1 C711.2,166.4 712.3,165.5 713.5,165.5 C714.7,165.5 715.9,166.4 717.0,169.1 C718.1,171.8 719.1,177.4 720.0,181.8 C720.9,186.2 721.1,189.1 722.4,195.5 C723.7,201.8 725.9,209.6 727.7,219.7 C729.5,229.9 731.5,244.4 733.1,256.3 C734.7,268.1 735.7,280.5 737.1,290.9 C738.5,301.3 740.1,308.1 741.3,318.7 C742.5,329.3 742.2,341.1 744.4,354.5 C746.6,368.0 751.3,385.5 754.3,399.5 C757.3,413.4 760.5,430.8 762.5,438.3 C764.5,445.7 765.0,444.3 766.6,444.3 C768.2,444.3 769.8,445.7 772.4,438.3 C775.0,430.8 779.0,412.2 782.3,399.5 C785.6,386.7 789.5,371.6 792.1,362.0 C794.8,352.4 796.2,346.8 798.2,341.8 C800.2,336.8 801.9,334.5 804.0,331.8 C806.1,329.1 809.8,326.5 811.0,325.5" stroke="#800000" class="ln"/>
<path id="a12" d="M136.0,540.3 C163.3,540.2 239.3,540.3 300.0,540.0 C360.7,539.7 414.8,539.1 500.0,538.6 C585.2,538.2 759.2,537.3 811.0,537.1" stroke="#ff80ff" class="ln"/>
<path id="a13" d="M148.5,534.4 C173.8,534.3 241.4,534.3 300.0,534.1 C358.6,533.9 414.8,533.4 500.0,533.0 C585.2,532.6 759.2,532.0 811.0,531.8" stroke="#ff8000" class="ln"/>
<path id="a14" d="M161.0,529.2 C184.2,529.1 243.5,528.9 300.0,528.6 C356.5,528.4 414.8,528.1 500.0,527.7 C585.2,527.4 759.2,526.7 811.0,526.5" stroke="#008000" class="ln"/>
<path id="a15" d="M173.5,524.2 C184.6,524.2 225.2,524.3 240.0,524.1 C254.8,523.9 254.5,523.0 262.0,522.9 C269.5,522.9 262.0,523.8 285.0,523.8 C308.0,523.9 347.5,523.5 400.0,523.2 C452.5,522.9 560.0,522.2 600.0,522.1 C640.0,521.9 629.5,521.9 640.0,522.3 C650.5,522.6 654.7,524.2 663.0,524.1 C671.3,524.0 682.7,522.3 690.0,521.8 C697.3,521.3 701.2,520.9 707.0,521.1 C712.8,521.2 718.3,522.2 725.0,522.7 C731.7,523.2 737.8,524.1 747.0,524.2 C756.2,524.3 769.3,523.5 780.0,523.2 C790.7,522.9 805.8,522.7 811.0,522.5" stroke="#800000" class="ln"/></g></g>
<g clip-path="url(#cb)"><g transform="scale(1,1.100)"><path id="b0" d="M1013.0,491.3 C1019.3,491.3 1041.8,491.4 1050.6,491.0 C1059.3,490.6 1061.1,490.0 1065.6,488.7 C1070.1,487.4 1074.3,485.2 1077.6,483.3 C1080.9,481.3 1083.4,479.8 1085.6,476.9 C1087.8,474.0 1089.3,470.0 1090.6,465.9 C1091.9,461.8 1092.6,456.8 1093.6,452.2 C1094.6,447.6 1095.8,443.8 1096.6,438.5 C1097.5,433.1 1098.0,426.3 1098.6,420.2 C1099.3,414.1 1100.0,408.0 1100.6,401.9 C1101.3,395.8 1102.0,390.5 1102.6,383.6 C1103.2,376.8 1103.6,369.9 1104.1,360.8 C1104.6,351.7 1105.1,338.7 1105.6,328.8 C1106.1,318.9 1106.6,308.9 1107.1,301.4 C1107.6,293.9 1108.1,285.6 1108.6,284.0 C1109.2,282.5 1109.8,285.6 1110.6,292.3" stroke="#000000" class="ln dash" style="stroke-dashoffset:51.7"/>
<path id="b0_1" d="M1110.6,292.3 C1111.5,299.0 1112.6,313.6 1113.6,324.2 C1114.6,334.9 1115.6,347.2 1116.7,356.2 C1117.7,365.2 1118.5,371.0 1119.7,378.2 C1120.8,385.3 1121.8,394.2 1123.7,399.2 C1125.5,404.2 1128.2,406.6 1130.7,408.3 C1133.2,410.0 1135.8,410.3 1138.7,409.2 C1141.5,408.2 1143.9,406.8 1147.7,401.9 C1151.5,397.0 1157.4,387.6 1161.7,380.0 C1166.1,372.4 1170.6,363.2 1173.7,356.2 C1176.9,349.2 1178.7,343.3 1180.7,338.0 C1182.7,332.6 1184.4,330.0 1185.8,324.2 C1187.1,318.5 1187.4,309.6 1188.8,303.2 C1190.1,296.8 1192.4,290.4 1193.8,285.9 C1195.1,281.3 1195.3,282.2 1196.8,275.8 C1198.3,269.4 1200.9,256.0 1202.8,247.5 C1204.6,239.0 1206.1,233.0 1207.8,224.6 C1209.5,216.3 1211.3,204.2 1212.8,197.2 C1214.3,190.2 1215.5,187.3 1216.8,182.6 C1218.1,177.9 1219.1,174.8 1220.8,168.9 C1222.5,163.0 1224.6,154.8 1226.8,147.0 C1229.1,139.1 1231.7,129.8 1234.3,121.7 C1237.0,113.7 1240.6,104.2 1242.8,98.5 C1245.1,92.8 1245.9,90.7 1247.8,87.6 C1249.8,84.5 1252.3,81.8 1254.6,79.9 C1256.8,78.0 1259.3,76.0 1261.6,76.0 C1263.8,76.1 1265.6,80.3 1268.0,80.0 C1270.4,79.7 1273.0,74.8 1276.0,74.5 C1279.0,74.3 1280.8,76.0 1286.0,78.4 C1291.2,80.7 1301.3,85.5 1307.0,88.5 C1312.7,91.5 1315.8,93.8 1320.0,96.4 C1324.2,98.9 1325.8,100.9 1332.0,103.6 C1338.2,106.3 1350.9,111.0 1357.2,112.5 C1363.5,114.1 1365.6,113.8 1370.0,112.7" stroke="#000000" class="ln dash" style="stroke-dashoffset:15.9"/>
<path id="b0_2" d="M1370.0,112.7 C1374.4,111.7 1378.7,108.4 1383.7,106.3 C1388.7,104.1 1394.8,103.4 1400.0,99.9 C1405.2,96.4 1409.7,90.1 1415.0,85.5 C1420.3,80.8 1426.5,75.6 1432.1,72.0 C1437.7,68.4 1443.6,66.2 1448.8,63.7 C1454.0,61.3 1458.1,59.1 1463.0,57.3 C1467.9,55.5 1473.5,53.8 1478.1,53.0 C1482.7,52.2 1486.2,51.8 1490.7,52.4 C1495.2,52.9 1501.0,54.8 1505.0,56.4 C1509.0,57.9 1511.8,59.3 1515.0,61.8 C1518.2,64.3 1520.1,66.3 1524.2,71.4 C1528.3,76.4 1536.0,86.7 1539.5,92.3 C1543.0,97.8 1543.1,99.9 1545.0,104.5 C1546.9,109.2 1548.7,113.5 1550.9,120.0 C1553.1,126.5 1555.5,135.0 1558.2,143.8 C1560.9,152.6 1564.7,164.5 1566.9,172.9 C1569.1,181.3 1569.8,187.3 1571.3,194.1 C1572.8,200.9 1574.4,207.0 1576.0,213.6 C1577.6,220.2 1579.2,226.8 1581.0,233.6 C1582.8,240.5 1585.0,247.5 1587.0,254.5 C1589.0,261.5 1590.8,268.4 1592.7,275.6 C1594.6,282.9 1596.4,289.6 1598.4,298.1 C1600.5,306.6 1602.7,317.7 1605.0,326.5 C1607.3,335.2 1610.2,343.5 1612.4,350.5 C1614.6,357.4 1616.1,362.5 1618.0,368.2" stroke="#000000" class="ln dash" style="stroke-dashoffset:32.0"/>
<path id="b0_3" d="M1618.0,368.2 C1619.9,373.9 1622.1,379.2 1623.9,384.7 C1625.7,390.2 1627.1,395.9 1628.9,401.2 C1630.8,406.5 1632.8,411.1 1635.0,416.4 C1637.2,421.6 1638.9,427.3 1642.0,432.5 C1645.1,437.7 1650.9,444.8 1653.6,447.5 C1656.3,450.3 1656.1,450.6 1658.0,449.1 C1659.9,447.6 1662.3,441.3 1665.1,438.5 C1667.9,435.8 1672.0,434.5 1675.0,432.7 C1678.0,431.0 1680.4,428.1 1683.2,428.1 C1686.0,428.1 1688.7,430.6 1692.0,432.7 C1695.3,434.9 1701.2,439.5 1703.0,440.9" stroke="#000000" class="ln dash" style="stroke-dashoffset:33.3"/>
<path id="b1" d="M1013.0,491.3 C1019.3,491.3 1041.8,491.4 1050.6,491.0 C1059.3,490.6 1061.1,490.0 1065.6,488.7 C1070.1,487.4 1074.3,485.2 1077.6,483.3 C1080.9,481.3 1083.4,479.8 1085.6,476.9 C1087.8,474.0 1089.3,470.0 1090.6,465.9 C1091.9,461.8 1092.6,456.8 1093.6,452.2 C1094.6,447.6 1095.8,443.8 1096.6,438.5 C1097.5,433.1 1098.0,426.3 1098.6,420.2 C1099.3,414.1 1100.0,408.0 1100.6,401.9 C1101.3,395.8 1102.0,390.5 1102.6,383.6 C1103.2,376.8 1103.6,369.9 1104.1,360.8 C1104.6,351.7 1105.2,338.7 1105.6,328.8 C1106.1,318.9 1106.2,309.0 1106.6,301.4 C1107.1,293.8 1107.5,284.6 1108.1,283.1 C1108.8,281.6 1109.7,285.4 1110.6,292.3" stroke="#ff0000" class="ln dash" style="stroke-dashoffset:51.7"/>
<path id="b1_1" d="M1110.6,292.3 C1111.6,299.1 1112.6,313.6 1113.6,324.2 C1114.6,334.9 1115.6,347.2 1116.7,356.2 C1117.7,365.2 1118.5,370.7 1119.7,378.2 C1120.8,385.6 1121.8,395.8 1123.7,401.0 C1125.5,406.2 1128.2,407.7 1130.7,409.2 C1133.2,410.8 1135.8,411.5 1138.7,410.1 C1141.5,408.8 1143.9,406.2 1147.7,401.0 C1151.5,395.8 1157.4,386.7 1161.7,379.1 C1166.1,371.5 1170.6,362.2 1173.7,355.3 C1176.9,348.5 1178.7,343.1 1180.7,338.0 C1182.7,332.8 1184.4,330.0 1185.8,324.2 C1187.1,318.5 1187.4,309.6 1188.8,303.2 C1190.1,296.8 1192.4,290.4 1193.8,285.9 C1195.1,281.3 1195.3,282.2 1196.8,275.8 C1198.3,269.4 1200.9,256.0 1202.8,247.5 C1204.6,239.0 1206.1,233.0 1207.8,224.6 C1209.5,216.3 1211.3,204.2 1212.8,197.2 C1214.3,190.2 1215.5,187.3 1216.8,182.6 C1218.1,177.9 1219.1,174.9 1220.8,168.9 C1222.5,162.9 1224.6,154.5 1226.8,146.6 C1229.1,138.7 1231.9,129.4 1234.3,121.7 C1236.7,114.0 1239.2,105.7 1241.3,100.4 C1243.4,95.0 1244.3,93.4 1246.8,89.4 C1249.4,85.4 1253.0,80.6 1256.9,76.6 C1260.7,72.6 1265.4,66.9 1270.0,65.5" stroke="#ff0000" class="ln dash" style="stroke-dashoffset:15.6"/>
<path id="b1_2" d="M1270.0,65.5 C1274.6,64.1 1279.1,66.7 1284.6,68.2 C1290.1,69.7 1297.2,72.0 1302.8,74.5 C1308.4,77.1 1313.1,80.5 1318.0,83.6 C1322.9,86.8 1325.7,90.2 1332.0,93.5 C1338.3,96.9 1349.5,101.8 1355.8,103.6 C1362.1,105.5 1365.3,105.0 1370.0,104.5 C1374.7,104.1 1377.9,102.6 1383.7,101.2 C1389.5,99.8 1399.2,98.6 1404.6,96.1" stroke="#ff0000" class="ln dash" style="stroke-dashoffset:34.9"/>
<path id="b1_3" d="M1404.6,96.1 C1410.0,93.6 1411.9,89.7 1416.0,86.4 C1420.1,83.0 1423.4,79.3 1429.3,75.8 C1435.2,72.4 1445.5,68.1 1451.6,65.6 C1457.7,63.2 1461.1,62.0 1466.0,60.9 C1470.9,59.8 1474.5,58.8 1480.9,59.3 C1487.3,59.7 1498.9,61.8 1504.6,63.7 C1510.3,65.7 1511.5,67.6 1515.0,70.9 C1518.5,74.2 1522.5,80.0 1525.6,83.4 C1528.7,86.7 1531.2,87.7 1533.5,90.9 C1535.8,94.1 1536.8,95.8 1539.5,102.5 C1542.2,109.1 1546.6,121.9 1549.5,130.5 C1552.4,139.2 1554.5,145.5 1556.7,154.4 C1558.9,163.2 1560.5,175.1 1562.5,183.5 C1564.5,191.8 1566.7,196.3 1568.4,204.6 C1570.1,213.0 1571.0,224.9 1572.7,233.7 C1574.4,242.5 1576.7,248.8 1578.5,257.5 C1580.3,266.3 1582.2,278.1 1583.6,286.1 C1585.0,294.1 1585.7,300.2 1586.9,305.5 C1588.1,310.9 1589.5,312.7 1591.0,318.2 C1592.5,323.7 1594.3,331.1 1596.0,338.5 C1597.7,345.8 1599.3,353.4 1600.9,362.4 C1602.5,371.3 1604.4,383.7 1605.8,392.2 C1607.2,400.6 1607.9,406.9 1609.1,413.1 C1610.3,419.2 1611.6,423.8 1613.0,429.1 C1614.4,434.3 1615.9,438.2 1617.4,444.5 C1619.0,450.9 1621.0,461.5 1622.3,467.0 C1623.6,472.5 1624.0,475.0 1625.0,477.3 C1626.0,479.5 1627.0,483.7 1628.1,480.5 C1629.1,477.2 1629.6,464.1 1631.3,458.0 C1633.0,451.9 1635.2,447.8 1638.0,443.6 C1640.8,439.4 1644.3,435.9 1648.0,432.7 C1651.7,429.5 1656.0,426.8 1660.0,424.5 C1664.0,422.3 1668.7,420.0 1672.0,419.1 C1675.3,418.2 1677.6,418.0 1679.9,419.1 C1682.2,420.2 1683.5,423.2 1686.0,425.9 C1688.5,428.7 1692.4,432.7 1694.7,435.5 C1697.0,438.4 1698.2,441.1 1699.6,443.1 C1701.0,445.0 1702.4,446.6 1703.0,447.3" stroke="#ff0000" class="ln dash" style="stroke-dashoffset:17.6"/>
<path id="b2" d="M1013.0,491.3 C1019.3,491.3 1041.8,491.4 1050.6,491.0 C1059.3,490.6 1061.1,490.0 1065.6,488.7 C1070.1,487.4 1074.3,485.2 1077.6,483.3 C1080.9,481.3 1083.4,479.8 1085.6,476.9 C1087.8,474.0 1089.3,470.0 1090.6,465.9 C1091.9,461.8 1092.6,456.8 1093.6,452.2 C1094.6,447.6 1095.8,443.8 1096.6,438.5 C1097.5,433.1 1098.0,426.3 1098.6,420.2 C1099.3,414.1 1100.0,408.0 1100.6,401.9 C1101.3,395.8 1102.0,390.5 1102.6,383.6 C1103.3,376.8 1104.0,369.9 1104.6,360.8 C1105.3,351.7 1106.1,338.7 1106.6,328.8 C1107.2,318.9 1107.6,308.4 1108.1,301.4 C1108.7,294.4 1109.4,287.5 1110.1,286.8 C1110.9,286.0 1111.7,289.8 1112.6,296.8 C1113.6,303.8 1114.6,318.2 1115.6,328.8 C1116.7,339.5 1117.8,351.2 1118.7,360.8 C1119.5,370.4 1119.7,379.5 1120.7,386.4 C1121.7,393.2 1123.3,398.1 1124.7,401.9 C1126.0,405.7 1126.3,407.9 1128.7,409.2 C1131.0,410.6 1135.5,411.4 1138.7,410.1 C1141.9,408.9 1143.9,406.8 1147.7,401.9 C1151.5,397.0 1157.4,388.2 1161.7,380.9 C1166.1,373.6 1170.6,364.9 1173.7,358.1 C1176.9,351.2 1178.4,345.4 1180.7,339.8 C1183.1,334.1 1185.4,329.6 1187.8,324.2 C1190.1,318.9 1192.9,312.8 1194.8,307.8 C1196.6,302.8 1197.4,298.4 1198.8,294.1 C1200.1,289.8 1201.3,288.7 1202.8,282.2 C1204.3,275.8 1206.2,263.9 1207.9,255.4 C1209.6,246.9 1211.1,239.9 1213.0,231.2 C1214.9,222.6 1217.6,211.5 1219.3,203.4 C1221.0,195.3 1221.4,191.5 1223.1,182.6 C1224.8,173.7 1227.0,159.3 1229.3,150.1 C1231.6,140.8 1234.6,135.5 1236.9,127.0 C1239.3,118.4 1241.1,107.3 1243.4,99.0 C1245.8,90.7 1248.8,82.9 1251.0,77.3" stroke="#0000ff" class="ln dash" style="stroke-dashoffset:51.7"/>
<path id="b2_1" d="M1251.0,77.3 C1253.3,71.8 1254.0,68.7 1256.9,65.6 C1259.7,62.6 1265.0,61.4 1268.0,59.1 C1271.0,56.8 1271.8,52.8 1275.0,51.8 C1278.2,50.8 1281.6,51.5 1287.4,53.0 C1293.2,54.5 1304.0,58.0 1309.8,60.5 C1315.6,63.1 1318.0,65.6 1322.0,68.2 C1326.0,70.7 1327.6,72.4 1333.5,75.8 C1339.4,79.2 1350.8,85.5 1357.2,88.5 C1363.6,91.4 1367.1,92.8 1372.0,93.6 C1376.9,94.5 1380.1,94.2 1386.5,93.5 C1392.9,92.9 1403.8,91.1 1410.2,89.7 C1416.6,88.4 1420.0,86.7 1425.0,85.5 C1430.0,84.2 1434.0,83.7 1440.5,82.1 C1447.0,80.5 1458.1,76.9 1464.2,75.8 C1470.3,74.7 1472.8,74.8 1477.0,75.5 C1481.2,76.1 1484.0,76.5 1489.3,79.6 C1494.6,82.8 1504.3,89.7 1508.8,94.2 C1513.2,98.6 1513.6,101.6 1516.0,106.4 C1518.4,111.1 1520.9,116.0 1523.3,122.6 C1525.7,129.3 1528.6,137.6 1530.5,146.5 C1532.4,155.3 1533.4,166.7 1534.9,175.5 C1536.4,184.4 1537.8,190.5 1539.3,199.4 C1540.8,208.2 1542.4,219.6 1543.6,228.5 C1544.8,237.3 1545.5,243.5 1546.5,252.3 C1547.5,261.1 1548.5,273.4 1549.5,281.4 C1550.5,289.3 1551.7,291.3 1552.4,299.8 C1553.1,308.3 1553.1,323.1 1553.9,332.5 C1554.7,342.0 1556.4,347.6 1557.2,356.5 C1558.0,365.5 1558.1,377.5 1558.9,386.5 C1559.7,395.4 1561.4,401.6 1562.2,410.4 C1563.0,419.1 1563.0,429.8 1563.8,438.8 C1564.6,447.8 1566.1,457.0 1567.1,464.3 C1568.0,471.6 1568.7,481.3 1569.5,482.7 C1570.3,484.1 1571.0,481.8 1572.0,472.7" stroke="#0000ff" class="ln dash" style="stroke-dashoffset:53.3"/>
<path id="b2_2" d="M1572.0,472.7 C1573.0,463.7 1574.5,439.8 1575.3,428.4 C1576.1,417.0 1575.9,412.1 1577.0,404.4 C1578.1,396.6 1580.2,388.6 1582.0,381.8 C1583.8,375.0 1586.0,371.2 1587.7,363.6 C1589.4,356.1 1590.9,343.3 1592.0,336.4 C1593.1,329.4 1593.4,327.9 1594.3,322.0 C1595.2,316.1 1596.3,305.3 1597.6,301.0 C1598.9,296.7 1600.8,296.1 1602.0,296.4 C1603.2,296.7 1604.1,300.2 1605.0,302.7" stroke="#0000ff" class="ln dash" style="stroke-dashoffset:5.9"/>
<path id="b2_3" d="M1605.0,302.7 C1605.9,305.3 1606.0,306.3 1607.5,311.5 C1609.0,316.8 1612.2,325.3 1614.1,334.0 C1616.0,342.7 1617.6,355.9 1619.0,363.9 C1620.4,371.9 1620.6,373.1 1622.3,381.8 C1624.0,390.5 1626.9,406.4 1628.9,416.1 C1631.0,425.8 1632.5,431.4 1634.6,440.1 C1636.6,448.8 1639.4,462.0 1641.2,468.5 C1643.0,474.9 1643.8,477.1 1645.3,479.0 C1646.8,480.9 1648.2,482.6 1650.0,480.0 C1651.8,477.4 1654.0,468.3 1656.0,463.6 C1658.0,458.9 1660.2,453.3 1662.0,451.8 C1663.8,450.3 1665.7,453.5 1667.0,454.5 C1668.3,455.6 1668.4,454.2 1670.0,458.0 C1671.6,461.8 1674.8,473.6 1676.6,477.5 C1678.4,481.3 1679.1,482.2 1681.0,480.9 C1682.9,479.7 1685.5,475.3 1688.1,470.0 C1690.7,464.7 1693.9,454.9 1696.4,449.0 C1698.9,443.1 1701.9,437.0 1703.0,434.5" stroke="#0000ff" class="ln dash" style="stroke-dashoffset:41.8"/>
<path id="b3" d="M1013.0,491.3 C1017.6,491.3 1033.4,491.3 1040.5,491.0 C1047.6,490.7 1051.6,490.4 1055.6,489.7 C1059.6,488.9 1061.2,487.7 1064.6,486.5 C1067.9,485.2 1072.3,483.6 1075.6,482.3 C1078.9,481.0 1082.3,480.5 1084.6,478.7 C1086.9,476.9 1088.1,474.6 1089.6,471.4 C1091.1,468.2 1092.4,463.0 1093.6,459.5 C1094.8,456.0 1095.9,454.2 1096.6,450.4 C1097.4,446.5 1097.7,440.9 1098.1,436.6 C1098.5,432.4 1098.6,430.6 1099.1,424.8 C1099.6,419.0 1100.5,408.8 1101.1,401.9 C1101.8,395.1 1102.6,389.0 1103.1,383.6 C1103.6,378.3 1103.8,376.0 1104.1,369.9 C1104.5,363.8 1104.8,356.2 1105.1,347.1 C1105.5,338.0 1105.6,324.2 1106.1,315.1 C1106.6,306.0 1107.5,294.9 1108.1,292.3 C1108.8,289.7 1109.6,293.5 1110.1,299.6" stroke="#00e000" class="ln dash" style="stroke-dashoffset:51.7"/>
<path id="b3_1" d="M1110.1,299.6 C1110.7,305.7 1111.1,317.9 1111.6,328.8 C1112.2,339.8 1112.8,355.0 1113.6,365.4 C1114.5,375.7 1115.3,384.3 1116.7,391.0 C1118.0,397.7 1119.5,401.9 1121.7,405.6 C1123.8,409.2 1127.2,410.8 1129.7,412.9 C1132.2,415.0 1134.5,417.0 1136.7,418.4 C1138.8,419.7 1140.0,421.3 1142.7,421.1 C1145.4,421.0 1149.0,420.8 1152.7,417.5 C1156.4,414.1 1160.2,406.9 1164.7,401.0 C1169.2,395.1 1175.4,388.4 1179.7,381.8 C1184.1,375.3 1187.6,369.0 1190.8,361.7 C1193.9,354.4 1196.3,347.5 1198.8,338.0 C1201.3,328.4 1203.4,314.0 1205.8,304.1 C1208.1,294.2 1210.8,287.2 1212.8,278.6 C1214.8,269.9 1216.3,260.5 1218.0,252.1 C1219.7,243.6 1221.3,237.0 1223.1,227.7 C1224.9,218.5 1227.4,205.4 1228.8,196.3 C1230.3,187.3 1230.7,181.9 1231.8,173.5 C1233.0,165.0 1234.1,154.0 1235.6,145.5 C1237.1,137.0 1238.5,130.7 1240.7,122.3 C1242.9,113.9 1246.2,103.3 1248.8,94.9 C1251.5,86.5 1253.7,78.4 1256.9,72.0 C1260.0,65.6 1265.0,61.0 1268.0,56.4 C1271.0,51.7 1271.7,47.1 1274.9,44.1 C1278.1,41.1 1282.9,39.5 1287.0,38.2 C1291.1,36.9 1295.1,36.5 1299.3,36.5 C1303.5,36.5 1307.5,36.5 1312.0,38.2 C1316.5,39.9 1320.8,43.5 1326.5,46.6 C1332.2,49.7 1338.8,52.7 1346.0,56.7 C1353.2,60.8 1361.8,66.4 1370.0,70.9 C1378.2,75.4 1388.3,80.2 1395.0,83.6 C1401.7,87.1 1404.9,89.3 1410.0,91.8 C1415.1,94.3 1420.2,96.3 1425.8,98.8 C1431.3,101.3 1438.4,105.0 1443.3,106.8 C1448.2,108.7 1451.1,108.2 1455.0,110.0 C1458.9,111.8 1461.7,112.8 1466.5,117.4 C1471.3,121.9 1479.8,131.7 1484.0,137.2 C1488.2,142.6 1489.8,145.4 1492.0,150.0 C1494.2,154.6 1495.5,158.5 1497.1,165.0 C1498.7,171.5 1500.0,179.9 1501.5,188.7 C1503.0,197.5 1504.6,209.0 1505.8,217.8 C1507.0,226.6 1507.7,232.8 1508.7,241.6 C1509.7,250.5 1510.9,261.9 1511.6,270.7 C1512.3,279.5 1512.6,285.7 1513.1,294.5 C1513.6,303.4 1513.9,314.8 1514.4,323.6 C1514.9,332.5 1515.5,338.6 1516.1,347.5 C1516.6,356.5 1517.2,368.5 1517.7,377.5 C1518.2,386.4 1518.9,392.6 1519.4,401.4 C1520.0,410.1 1520.5,421.1 1521.0,429.8 C1521.5,438.5 1522.2,445.8 1522.7,453.7 C1523.2,461.6 1523.8,471.8 1524.3,477.3 C1524.8,482.7 1525.4,485.6 1526.0,486.4 C1526.6,487.1 1527.2,487.1 1528.0,481.8" stroke="#00e000" class="ln dash" style="stroke-dashoffset:40.3"/>
<path id="b3_2" d="M1528.0,481.8 C1528.8,476.5 1530.2,463.0 1531.0,454.5 C1531.8,446.1 1532.0,439.2 1532.5,431.4 C1533.0,423.5 1533.7,416.1 1534.2,407.4 C1534.8,398.6 1535.2,387.7 1535.8,379.0 C1536.3,370.3 1537.0,364.0 1537.5,355.0 C1538.0,346.0 1538.5,334.1 1539.1,325.1 C1539.6,316.1 1540.3,309.8 1540.8,301.2 C1541.3,292.6 1541.3,282.0 1542.0,273.4 C1542.7,264.8 1544.1,258.4 1545.1,249.5 C1546.1,240.7 1546.5,229.3 1548.0,220.5 C1549.5,211.7 1552.0,202.7 1553.8,196.7 C1555.6,190.7 1557.6,185.2 1559.0,184.5 C1560.4,183.9 1560.9,186.7 1562.0,192.7" stroke="#00e000" class="ln dash" style="stroke-dashoffset:1.3"/>
<path id="b3_3" d="M1562.0,192.7 C1563.1,198.7 1564.4,211.9 1565.5,220.5 C1566.6,229.0 1567.2,235.5 1568.4,244.3 C1569.6,253.1 1571.3,264.4 1572.7,273.4 C1574.1,282.3 1575.9,289.2 1577.0,298.1 C1578.1,306.9 1578.5,317.7 1579.5,326.5 C1580.5,335.2 1581.3,341.5 1582.8,350.5 C1584.3,359.4 1586.9,371.5 1588.6,380.2 C1590.2,388.9 1591.5,393.9 1592.7,402.6 C1593.9,411.4 1594.9,425.6 1596.0,432.5 C1597.1,439.5 1597.9,438.6 1599.2,444.5 C1600.5,450.5 1602.4,463.5 1604.0,468.2 C1605.6,472.9 1607.3,473.7 1609.0,472.7 C1610.7,471.8 1612.2,468.2 1614.1,462.5 C1616.0,456.8 1618.1,447.3 1620.6,438.5 C1623.1,429.8 1626.6,418.1 1628.9,410.1 C1631.2,402.1 1631.9,395.1 1634.6,390.7 C1637.3,386.3 1641.3,383.4 1645.0,383.6 C1648.7,383.9 1653.7,388.7 1656.9,392.2 C1660.1,395.7 1661.5,401.3 1664.0,404.5 C1666.5,407.8 1669.4,411.3 1671.7,411.6 C1674.0,411.9 1675.8,408.4 1678.0,406.4 C1680.2,404.4 1682.0,405.0 1684.8,399.6 C1687.6,394.3 1692.5,380.8 1694.7,374.4 C1696.9,367.9 1696.6,365.0 1698.0,360.9 C1699.4,356.8 1702.2,351.8 1703.0,350.0" stroke="#00e000" class="ln dash" style="stroke-dashoffset:22.7"/>
<path id="b4" d="M1013.0,526.9 C1033.3,526.8 1111.8,526.8 1135.0,526.5 C1158.2,526.2 1146.5,525.3 1152.0,525.1 C1157.5,524.8 1162.5,524.9 1168.0,525.1 C1173.5,525.3 1163.0,526.2 1185.0,526.2 C1207.0,526.2 1264.2,525.3 1300.0,525.0 C1335.8,524.7 1356.7,524.4 1400.0,524.3 C1443.3,524.2 1529.3,524.0 1560.0,524.3 C1590.7,524.6 1576.7,526.3 1584.0,526.1 C1591.3,525.9 1597.2,523.7 1604.0,523.2 C1610.8,522.7 1615.7,522.8 1625.0,523.0 C1634.3,523.2 1647.0,523.7 1660.0,524.1 C1673.0,524.5 1695.8,525.2 1703.0,525.5" stroke="#00e000" class="ln dash" style="stroke-dashoffset:0.0"/>
<path id="b5" d="M1013.0,532.2 C1044.2,532.0 1135.5,531.4 1200.0,530.9 C1264.5,530.5 1336.7,529.6 1400.0,529.5 C1463.3,529.3 1543.3,529.7 1580.0,530.0 C1616.7,530.3 1606.7,531.3 1620.0,531.4 C1633.3,531.4 1646.2,530.5 1660.0,530.5 C1673.8,530.4 1695.8,531.1 1703.0,531.3" stroke="#0000ff" class="ln dash" style="stroke-dashoffset:0.0"/>
<path id="b6" d="M1013.0,537.6 C1044.2,537.4 1135.5,536.8 1200.0,536.4 C1264.5,535.9 1340.0,535.2 1400.0,535.0 C1460.0,534.8 1523.3,535.2 1560.0,535.5 C1596.7,535.7 1600.0,536.1 1620.0,536.4 C1640.0,536.6 1666.2,537.1 1680.0,536.8 C1693.8,536.5 1699.2,534.9 1703.0,534.5" stroke="#ff0000" class="ln dash" style="stroke-dashoffset:0.0"/>
<path id="b7" d="M1013.0,542.7 C1044.2,542.6 1135.5,542.1 1200.0,541.8 C1264.5,541.5 1340.0,541.0 1400.0,540.9 C1460.0,540.8 1523.3,541.1 1560.0,541.4 C1596.7,541.6 1600.0,542.1 1620.0,542.3 C1640.0,542.4 1666.2,542.7 1680.0,542.4 C1693.8,542.0 1699.2,540.4 1703.0,540.0" stroke="#000000" class="ln dash" style="stroke-dashoffset:0.0"/>
<path id="b8" d="M1026.0,491.3 C1030.1,491.3 1044.8,491.4 1050.6,491.0 C1056.3,490.7 1057.2,489.8 1060.6,489.2 C1063.9,488.6 1067.2,488.1 1070.6,487.4 C1073.9,486.7 1077.3,486.1 1080.6,485.1 C1083.9,484.0 1087.8,482.9 1090.6,481.0 C1093.5,479.0 1095.6,476.0 1097.6,473.2 C1099.6,470.4 1101.3,466.8 1102.6,464.1 C1104.0,461.3 1104.6,459.8 1105.6,456.8 C1106.6,453.7 1107.7,450.7 1108.6,445.8 C1109.6,440.9 1110.5,433.6 1111.1,427.5 C1111.8,421.4 1111.9,418.1 1112.4,409.2 C1112.9,400.4 1113.4,386.5 1114.1,374.5 C1114.8,362.5 1115.8,349.2 1116.7,337.0 C1117.5,324.9 1118.5,310.1 1119.2,301.4 C1119.8,292.7 1120.1,285.0 1120.7,285.0 C1121.2,285.0 1121.8,292.7 1122.5,301.4 C1123.1,310.1 1123.9,327.1 1124.7,337.0 C1125.4,346.9 1126.3,354.7 1127.2,360.8 C1128.0,366.9 1128.3,368.4 1129.7,373.6 C1131.1,378.8 1133.5,386.7 1135.7,391.9 C1137.8,397.0 1140.5,401.9 1142.7,404.7 C1144.9,407.4 1146.5,408.2 1148.7,408.3 C1150.9,408.5 1153.3,407.3 1155.7,405.6 C1158.1,403.8 1161.2,399.6 1163.0,397.7 C1164.8,395.8 1165.3,395.5 1166.5,394.1 C1167.7,392.7 1168.6,391.7 1170.1,389.5 C1171.6,387.2 1173.6,383.5 1175.5,380.5 C1177.4,377.4 1179.5,375.4 1181.3,370.9 C1183.1,366.4 1184.6,359.4 1186.3,353.6 C1188.0,347.9 1189.7,342.9 1191.4,336.4 C1193.1,329.8 1194.7,322.0 1196.5,314.5 C1198.3,307.1 1200.4,299.1 1202.5,291.5 C1204.6,283.8 1207.0,276.1 1208.9,268.5 C1210.8,260.8 1212.8,249.2 1213.9,245.5 C1215.0,241.7 1214.2,250.9 1215.5,246.2 C1216.8,241.5 1219.5,227.9 1221.8,217.3 C1224.1,206.7 1226.9,193.4 1229.4,182.6 C1231.9,171.8 1234.4,162.3 1236.9,152.4 C1239.4,142.6 1242.6,129.9 1244.5,123.5 C1246.4,117.0 1246.6,119.0 1248.4,113.8 C1250.2,108.6 1252.3,98.2 1255.3,92.3 C1258.3,86.4 1262.1,81.5 1266.5,78.4 C1270.9,75.2 1277.0,73.7 1281.9,73.3 C1286.8,72.8 1290.7,74.3 1295.8,75.8 C1300.9,77.3 1306.3,78.9 1312.6,82.1 C1318.9,85.3 1326.5,91.0 1333.5,94.8 C1340.5,98.6 1347.4,102.5 1354.4,105.0 C1361.4,107.5 1368.3,109.4 1375.3,110.0 C1382.3,110.6 1390.5,109.8 1396.3,108.7 C1402.1,107.7 1405.9,105.7 1410.0,103.6 C1414.1,101.5 1415.6,100.3 1420.9,96.1 C1426.2,91.9 1434.9,83.9 1441.9,78.4 C1448.9,72.9 1455.8,66.9 1462.8,63.1 C1469.8,59.3 1477.4,57.0 1483.7,55.5 C1490.0,53.9 1494.7,53.4 1500.5,53.6 C1506.3,53.8 1513.2,54.9 1518.6,56.7 C1523.9,58.5 1528.4,61.0 1532.6,64.4 C1536.8,67.8 1540.2,72.4 1543.7,77.1 C1547.2,81.7 1550.6,86.9 1553.5,92.3 C1556.4,97.6 1558.8,103.6 1561.0,109.1 C1563.2,114.6 1564.8,119.1 1567.0,125.5 C1569.2,131.8 1572.2,139.8 1574.5,147.3 C1576.8,154.7 1578.8,161.8 1581.0,170.0 C1583.2,178.2 1585.6,187.9 1587.6,196.7 C1589.6,205.5 1591.3,214.3 1593.0,222.7 C1594.7,231.2 1596.5,240.5 1597.8,247.3 C1599.1,254.1 1599.5,256.4 1601.0,263.6 C1602.5,270.9 1604.9,283.4 1606.5,290.9 C1608.1,298.4 1609.2,302.8 1610.8,308.5 C1612.4,314.3 1614.1,319.2 1616.0,325.5 C1617.9,331.7 1620.5,339.8 1622.3,345.9 C1624.1,352.0 1625.5,357.3 1627.0,361.8 C1628.5,366.3 1629.7,369.1 1631.2,372.7 C1632.7,376.4 1634.2,379.6 1636.0,383.6 C1637.8,387.7 1640.2,392.5 1642.2,397.0 C1644.2,401.5 1645.8,405.9 1648.0,410.9 C1650.2,415.9 1652.4,421.6 1655.1,427.1 C1657.8,432.6 1661.8,439.7 1664.3,443.8 C1666.8,448.0 1668.3,451.5 1669.8,452.1 C1671.3,452.7 1672.3,449.5 1673.5,447.3 C1674.7,445.0 1675.3,441.3 1677.1,438.7 C1678.9,436.2 1682.3,432.9 1684.5,432.1 C1686.7,431.3 1688.2,435.4 1690.0,433.7 C1691.8,432.1 1694.0,425.7 1695.5,422.1 C1697.0,418.5 1698.0,415.8 1699.2,412.1 C1700.5,408.4 1702.4,402.0 1703.0,400.0" stroke="#ff80ff" class="ln"/>
<path id="b9" d="M1038.0,491.3 C1041.8,491.3 1054.3,491.3 1060.6,491.0 C1066.8,490.7 1070.6,490.3 1075.6,489.7 C1080.6,489.0 1086.4,488.0 1090.6,486.9 C1094.8,485.8 1097.6,484.9 1100.6,483.3 C1103.6,481.6 1106.3,479.3 1108.6,476.9 C1111.0,474.4 1112.8,472.0 1114.6,468.6 C1116.5,465.3 1118.3,460.6 1119.7,456.8 C1121.0,452.9 1121.8,450.7 1122.7,445.8 C1123.5,440.9 1124.1,433.6 1124.7,427.5 C1125.2,421.4 1125.4,418.1 1125.9,409.2 C1126.4,400.4 1126.9,386.5 1127.7,374.5 C1128.4,362.5 1129.4,349.2 1130.2,337.0 C1130.9,324.9 1131.6,310.4 1132.2,301.4 C1132.7,292.4 1133.0,283.1 1133.5,283.1 C1134.0,283.1 1134.5,292.4 1135.2,301.4 C1135.9,310.4 1136.9,327.1 1137.7,337.0 C1138.4,346.9 1139.0,354.7 1139.7,360.8 C1140.4,366.9 1140.4,368.4 1141.7,373.6 C1143.0,378.8 1145.5,386.7 1147.7,391.9 C1149.9,397.0 1152.6,402.1 1154.7,404.7 C1156.8,407.3 1158.6,407.3 1160.5,407.5 C1162.4,407.8 1164.4,406.9 1166.1,406.4 C1167.8,405.8 1169.1,405.0 1170.5,404.1 C1171.9,403.2 1172.9,402.2 1174.5,400.7 C1176.1,399.2 1178.0,397.6 1180.0,395.1 C1182.0,392.6 1184.0,389.8 1186.3,385.8 C1188.6,381.8 1191.7,376.3 1194.0,370.9 C1196.3,365.5 1198.3,359.3 1200.2,353.6 C1202.1,348.0 1203.3,343.3 1205.2,336.8 C1207.1,330.3 1209.3,322.1 1211.4,314.5 C1213.5,307.0 1215.6,299.1 1217.7,291.5 C1219.8,283.8 1222.1,276.1 1224.0,268.5 C1225.9,260.8 1227.1,254.0 1229.1,245.5 C1231.1,236.9 1233.4,227.8 1235.7,217.3 C1238.1,206.9 1240.8,193.4 1243.3,182.6 C1245.9,171.8 1247.7,163.9 1250.8,152.4 C1254.0,141.0 1259.2,123.4 1262.3,113.8 C1265.4,104.2 1266.3,100.7 1269.3,94.8 C1272.3,88.9 1276.8,82.6 1280.5,78.4 C1284.2,74.1 1287.9,71.4 1291.6,69.5 C1295.3,67.5 1298.8,66.9 1302.8,66.9 C1306.8,66.9 1310.2,67.5 1315.3,69.5 C1320.4,71.4 1327.0,75.0 1333.5,78.4 C1340.0,81.7 1347.4,86.3 1354.4,89.7 C1361.4,93.1 1368.3,96.5 1375.3,98.6 C1382.3,100.8 1388.7,102.5 1396.3,102.5 C1403.9,102.5 1413.3,101.6 1420.9,98.6 C1428.5,95.7 1434.9,89.1 1441.9,84.6 C1448.9,80.2 1455.8,75.6 1462.8,72.0 C1469.8,68.4 1476.7,65.3 1483.7,63.1 C1490.7,60.9 1498.8,59.3 1504.6,58.6 C1510.4,58.0 1513.9,58.3 1518.6,59.3 C1523.3,60.2 1527.9,61.6 1532.6,64.4 C1537.2,67.1 1542.5,71.6 1546.5,75.8 C1550.5,80.0 1553.3,84.9 1556.3,89.7 C1559.3,94.6 1562.3,100.3 1564.6,105.0 C1566.9,109.7 1567.8,111.7 1570.0,118.2 C1572.2,124.7 1575.0,135.0 1577.5,143.8 C1580.0,152.6 1582.6,162.1 1585.0,170.9 C1587.4,179.7 1589.8,188.1 1592.0,196.7 C1594.2,205.4 1596.0,213.1 1598.0,222.7 C1600.0,232.4 1602.2,245.5 1603.9,254.5 C1605.6,263.6 1606.6,268.9 1608.0,277.3 C1609.4,285.6 1610.9,296.5 1612.4,304.5 C1613.9,312.6 1615.3,318.5 1617.0,325.5 C1618.7,332.5 1620.5,340.2 1622.3,346.5 C1624.0,352.9 1625.9,357.8 1627.5,363.6 C1629.1,369.5 1630.5,374.9 1632.0,381.8 C1633.5,388.8 1635.4,398.5 1636.7,405.4 C1638.0,412.2 1638.8,415.8 1640.0,422.7 C1641.2,429.7 1642.8,439.2 1644.1,447.1 C1645.3,455.0 1646.4,463.3 1647.5,470.0 C1648.6,476.7 1649.6,485.3 1650.5,487.3 C1651.4,489.2 1652.2,485.7 1653.0,481.8 C1653.8,477.9 1654.1,471.0 1655.1,463.8 C1656.1,456.6 1657.6,445.7 1658.8,438.7 C1660.0,431.8 1660.6,425.4 1662.4,422.1 C1664.2,418.8 1667.0,419.6 1669.8,418.7 C1672.6,417.9 1676.2,416.5 1679.0,417.1 C1681.8,417.7 1683.8,420.7 1686.3,422.1 C1688.8,423.5 1691.5,425.2 1693.7,425.5 C1695.9,425.7 1697.7,424.2 1699.2,423.7 C1700.8,423.3 1702.4,422.9 1703.0,422.7" stroke="#ff8000" class="ln"/>
<path id="b10" d="M1051.1,491.3 C1056.0,491.3 1074.0,491.3 1080.6,491.0 C1087.2,490.7 1087.3,490.3 1090.6,489.7 C1094.0,489.0 1096.8,488.0 1100.6,486.9 C1104.5,485.8 1110.0,485.2 1113.6,483.3 C1117.3,481.3 1120.2,477.9 1122.7,475.0 C1125.2,472.1 1127.0,468.9 1128.7,465.9 C1130.3,462.8 1131.5,460.7 1132.7,456.8 C1133.8,452.8 1134.9,447.0 1135.7,442.2 C1136.4,437.3 1136.7,433.1 1137.2,427.7 C1137.7,422.2 1138.1,418.3 1138.7,409.7 C1139.3,401.0 1140.0,387.4 1140.7,375.8 C1141.4,364.2 1142.2,350.9 1142.9,340.0 C1143.6,329.1 1144.1,318.2 1144.7,310.4 C1145.2,302.5 1145.6,292.7 1146.2,292.7 C1146.8,292.7 1147.4,302.6 1148.2,310.4 C1148.9,318.2 1149.9,330.9 1150.7,339.5 C1151.5,348.1 1152.1,356.0 1152.7,361.9 C1153.3,367.8 1153.2,370.0 1154.2,375.0 C1155.2,380.0 1156.9,386.1 1158.7,391.9 C1160.5,397.7 1163.3,406.2 1165.1,409.6 C1166.9,413.0 1168.0,411.7 1169.5,412.3 C1171.0,412.9 1172.6,413.2 1174.2,413.4 C1175.8,413.5 1177.4,413.4 1179.0,413.2 C1180.6,412.9 1182.2,412.8 1184.0,411.8 C1185.8,410.8 1188.1,408.8 1190.0,407.3 C1191.9,405.8 1193.0,405.9 1195.5,402.7 C1198.0,399.5 1202.5,393.5 1205.3,388.2 C1208.1,382.9 1210.3,376.7 1212.5,370.9 C1214.7,365.2 1216.7,359.3 1218.5,353.6 C1220.3,348.0 1221.7,343.3 1223.5,336.8 C1225.3,330.3 1227.1,322.1 1229.1,314.5 C1231.1,307.0 1233.3,299.1 1235.4,291.5 C1237.5,283.8 1239.9,276.1 1241.8,268.5 C1243.7,260.8 1245.1,254.0 1246.8,245.5 C1248.5,236.9 1250.4,226.4 1252.2,217.3 C1254.1,208.2 1256.1,198.5 1258.0,190.9 C1259.9,183.3 1261.9,177.1 1263.4,171.8 C1264.9,166.5 1265.8,163.5 1267.0,159.1 C1268.2,154.7 1269.2,150.5 1270.4,145.5 C1271.6,140.5 1272.8,134.2 1274.0,129.1 C1275.2,123.9 1276.2,120.3 1277.7,114.5 C1279.2,108.8 1281.5,99.8 1283.3,94.5 C1285.0,89.2 1286.2,86.7 1288.2,82.7 C1290.2,78.7 1292.7,74.1 1295.0,70.5 C1297.3,66.8 1299.6,63.5 1302.3,60.9 C1305.0,58.3 1308.0,56.4 1311.0,55.0 C1314.0,53.6 1317.1,52.4 1320.4,52.3 C1323.7,52.1 1327.2,52.9 1331.0,54.1 C1334.8,55.3 1339.3,57.6 1343.2,59.6 C1347.1,61.7 1350.7,64.1 1354.5,66.4 C1358.3,68.7 1361.5,70.6 1365.9,73.4 C1370.3,76.2 1376.0,80.3 1381.1,83.1 C1386.2,85.9 1391.2,88.3 1396.3,90.0 C1401.4,91.7 1406.4,92.9 1411.5,93.5 C1416.6,94.0 1421.6,94.3 1426.7,93.5 C1431.8,92.6 1436.8,90.0 1441.9,88.5 C1447.0,87.0 1452.0,85.9 1457.1,84.5 C1462.2,83.0 1467.2,81.0 1472.3,79.6 C1477.3,78.3 1482.4,77.0 1487.4,76.2 C1492.5,75.4 1497.5,74.8 1502.6,74.8 C1507.7,74.8 1512.7,74.8 1517.8,76.2 C1522.9,77.6 1528.2,80.0 1533.0,83.1 C1537.8,86.2 1543.1,91.2 1546.5,94.8 C1549.9,98.5 1551.2,101.1 1553.5,105.0 C1555.8,108.9 1557.9,112.2 1560.0,118.2 C1562.1,124.2 1564.2,133.3 1566.0,140.9 C1567.8,148.5 1569.1,154.5 1571.0,163.6 C1572.9,172.7 1575.6,184.8 1577.3,195.5 C1579.0,206.1 1579.8,215.9 1581.0,227.3 C1582.2,238.6 1583.2,253.0 1584.4,263.6 C1585.6,274.2 1586.9,282.6 1588.0,290.9 C1589.1,299.2 1590.0,304.5 1591.0,313.6 C1592.0,322.8 1593.3,334.5 1594.3,345.9 C1595.3,357.3 1595.7,367.4 1596.8,381.8 C1597.9,396.3 1599.8,418.2 1600.9,432.5 C1602.0,446.9 1602.7,459.1 1603.5,468.2 C1604.3,477.3 1604.8,487.3 1605.6,487.3 C1606.3,487.3 1607.1,477.7 1608.0,468.2 C1608.9,458.7 1609.9,442.3 1611.0,430.5 C1612.1,418.6 1613.5,404.0 1614.7,397.0 C1615.9,390.0 1617.2,391.4 1618.4,388.6 C1619.6,385.9 1621.0,384.5 1622.0,380.4 C1623.0,376.2 1623.6,371.9 1624.5,363.6 C1625.4,355.4 1626.1,340.3 1627.2,330.9 C1628.3,321.5 1629.9,312.6 1631.0,307.3 C1632.1,302.0 1632.5,301.1 1633.8,299.1 C1635.1,297.0 1637.3,294.8 1638.7,295.0 C1640.1,295.2 1640.9,297.7 1642.0,300.0 C1643.1,302.3 1643.6,302.1 1645.3,308.5 C1647.0,315.0 1650.1,330.0 1651.9,338.5 C1653.7,346.9 1654.7,352.6 1656.0,359.1 C1657.3,365.6 1658.3,370.9 1659.5,377.3 C1660.7,383.6 1661.3,388.4 1663.0,397.3 C1664.7,406.1 1667.5,419.4 1669.8,430.5 C1672.1,441.5 1674.8,455.8 1677.1,463.8 C1679.4,471.9 1681.4,478.3 1683.6,478.8 C1685.8,479.4 1687.7,471.6 1690.0,467.2 C1692.3,462.7 1695.1,455.1 1697.3,452.1 C1699.5,449.1 1702.0,449.6 1703.0,449.1" stroke="#008000" class="ln"/>
<path id="b11" d="M1013.5,491.4 C1021.8,491.4 1051.9,491.3 1063.1,491.3 C1074.3,491.3 1074.3,491.4 1080.6,491.3 C1086.9,491.2 1094.8,491.0 1100.6,490.6 C1106.5,490.1 1111.0,489.8 1115.6,488.7 C1120.3,487.7 1125.0,486.1 1128.7,484.2 C1132.3,482.2 1135.3,479.4 1137.7,476.9 C1140.0,474.3 1141.4,472.0 1142.7,468.6 C1144.0,465.3 1144.9,460.6 1145.7,456.8 C1146.4,453.0 1146.4,450.6 1147.2,445.8 C1147.9,441.0 1149.4,433.7 1150.2,427.7 C1151.0,421.7 1151.1,418.4 1151.7,409.8 C1152.3,401.1 1153.0,387.6 1153.7,376.0 C1154.4,364.4 1155.2,350.4 1155.9,340.3 C1156.6,330.1 1157.2,321.4 1157.7,315.1 C1158.3,308.9 1158.7,302.7 1159.2,302.7 C1159.7,302.7 1160.1,308.9 1160.7,315.1 C1161.3,321.3 1162.0,332.0 1162.7,340.1 C1163.4,348.2 1164.4,357.0 1165.1,363.6 C1165.8,370.3 1166.3,375.3 1167.0,380.0 C1167.7,384.7 1168.3,387.6 1169.1,391.8 C1169.9,396.1 1170.9,401.7 1172.0,405.5 C1173.1,409.2 1174.2,412.2 1175.5,414.5 C1176.8,416.9 1177.9,418.6 1179.5,419.8 C1181.1,421.1 1183.0,421.6 1185.0,422.1 C1187.0,422.6 1189.2,422.8 1191.4,422.7 C1193.6,422.6 1195.7,422.2 1198.0,421.4 C1200.3,420.5 1202.9,419.2 1205.2,417.7 C1207.5,416.2 1209.6,414.6 1212.0,412.3 C1214.4,409.9 1216.9,407.7 1219.5,403.6 C1222.1,399.6 1225.2,393.6 1227.8,388.2 C1230.4,382.7 1233.1,376.5 1235.3,370.9 C1237.5,365.3 1239.4,360.2 1241.2,354.5 C1243.0,348.9 1244.3,343.5 1246.3,336.8 C1248.3,330.2 1251.0,322.1 1253.0,314.5 C1255.0,307.0 1256.5,299.1 1258.2,291.5 C1259.9,283.8 1261.7,276.1 1263.3,268.5 C1264.9,260.8 1266.3,254.0 1267.8,245.5 C1269.3,236.9 1270.5,227.8 1272.5,217.3 C1274.4,206.9 1277.4,193.4 1279.5,182.6 C1281.6,171.8 1282.6,163.9 1285.1,152.4 C1287.6,141.0 1291.9,124.3 1294.4,113.8 C1296.9,103.4 1298.1,96.9 1300.0,89.7 C1301.9,82.5 1303.5,76.4 1305.6,70.7 C1307.7,65.0 1310.3,59.6 1312.6,55.5 C1314.9,51.3 1316.7,48.6 1319.5,45.9 C1322.3,43.3 1325.1,41.1 1329.3,39.5 C1333.5,38.0 1339.2,36.4 1344.6,36.4 C1349.9,36.3 1355.3,36.8 1361.4,39.1 C1367.5,41.4 1375.3,46.5 1381.1,50.0 C1386.9,53.5 1391.2,56.7 1396.3,60.0 C1401.4,63.3 1406.4,66.5 1411.5,69.5 C1416.6,72.6 1421.6,75.5 1426.7,78.2 C1431.8,80.9 1436.9,83.6 1441.9,85.9 C1447.0,88.2 1451.9,90.0 1457.0,91.8 C1462.1,93.7 1467.2,95.2 1472.3,96.9 C1477.4,98.6 1482.4,100.0 1487.4,101.8 C1492.5,103.6 1497.3,104.9 1502.6,107.7 C1507.8,110.5 1513.8,114.1 1518.9,118.6 C1524.1,123.2 1529.6,128.6 1533.5,135.0 C1537.4,141.4 1539.8,148.9 1542.2,157.0 C1544.6,165.1 1546.1,174.6 1548.0,183.5 C1549.9,192.3 1552.1,199.6 1553.8,209.9 C1555.5,220.2 1557.1,235.0 1558.2,245.5 C1559.3,255.9 1559.4,259.7 1560.5,272.7 C1561.6,285.7 1563.5,306.8 1564.7,323.5 C1565.9,340.1 1566.5,354.5 1567.5,372.7 C1568.5,390.9 1569.6,416.6 1570.4,432.5 C1571.2,448.5 1571.8,459.5 1572.5,468.2 C1573.2,476.8 1573.6,483.8 1574.3,484.5 C1575.0,485.3 1575.6,478.9 1576.5,472.7 C1577.4,466.6 1578.6,459.7 1579.5,447.5 C1580.4,435.4 1581.2,412.5 1582.0,400.0 C1582.8,387.5 1583.6,385.5 1584.4,372.7 C1585.2,360.0 1586.0,338.6 1586.9,323.5 C1587.8,308.3 1589.3,291.8 1590.0,281.8 C1590.7,271.8 1590.3,271.5 1591.0,263.6 C1591.7,255.8 1592.8,243.0 1594.0,234.5 C1595.2,226.1 1596.7,218.2 1598.0,212.7 C1599.3,207.3 1600.6,204.1 1602.0,201.8 C1603.4,199.5 1605.0,199.1 1606.5,199.1 C1608.0,199.1 1609.6,199.4 1611.0,201.8 C1612.4,204.2 1613.7,208.2 1615.0,213.6 C1616.3,219.1 1617.8,226.2 1619.0,234.5 C1620.2,242.9 1620.6,251.3 1622.3,263.6 C1624.0,276.0 1627.0,294.8 1628.9,308.5 C1630.8,322.3 1632.5,336.7 1633.8,345.9 C1635.1,355.1 1635.0,353.7 1636.7,363.6 C1638.4,373.5 1641.6,391.5 1644.1,405.4 C1646.5,419.3 1649.6,437.4 1651.4,447.1 C1653.2,456.8 1653.9,459.6 1655.0,463.6 C1656.1,467.7 1656.9,470.5 1657.9,471.4 C1658.9,472.3 1659.9,470.3 1661.0,469.1 C1662.1,467.8 1662.2,470.3 1664.3,463.8 C1666.4,457.4 1670.5,441.6 1673.5,430.5 C1676.5,419.3 1679.5,405.3 1682.6,397.0 C1685.6,388.7 1689.3,383.7 1691.8,380.4 C1694.2,377.0 1695.4,376.9 1697.3,377.0 C1699.2,377.1 1702.0,380.3 1703.0,380.9" stroke="#800000" class="ln"/>
<path id="b12" d="M1013.0,542.7 C1044.2,542.6 1135.5,542.1 1200.0,541.8 C1264.5,541.5 1340.0,541.0 1400.0,540.9 C1460.0,540.8 1523.3,541.1 1560.0,541.4 C1596.7,541.6 1600.0,542.1 1620.0,542.3 C1640.0,542.4 1666.2,542.7 1680.0,542.4 C1693.8,542.0 1699.2,540.4 1703.0,540.0" stroke="#ff80ff" class="ln"/>
<path id="b13" d="M1013.0,537.6 C1044.2,537.4 1135.5,536.8 1200.0,536.4 C1264.5,535.9 1340.0,535.2 1400.0,535.0 C1460.0,534.8 1523.3,535.2 1560.0,535.5 C1596.7,535.7 1600.0,536.1 1620.0,536.4 C1640.0,536.6 1666.2,537.1 1680.0,536.8 C1693.8,536.5 1699.2,534.9 1703.0,534.5" stroke="#ff8000" class="ln"/>
<path id="b14" d="M1013.0,532.2 C1044.2,532.0 1135.5,531.4 1200.0,530.9 C1264.5,530.5 1336.7,529.6 1400.0,529.5 C1463.3,529.3 1543.3,529.7 1580.0,530.0 C1616.7,530.3 1606.7,531.3 1620.0,531.4 C1633.3,531.4 1646.2,530.5 1660.0,530.5 C1673.8,530.4 1695.8,531.1 1703.0,531.3" stroke="#008000" class="ln"/>
<path id="b15" d="M1013.0,526.9 C1033.3,526.8 1111.8,526.8 1135.0,526.5 C1158.2,526.2 1146.5,525.3 1152.0,525.1 C1157.5,524.8 1162.5,524.9 1168.0,525.1 C1173.5,525.3 1163.0,526.2 1185.0,526.2 C1207.0,526.2 1264.2,525.3 1300.0,525.0 C1335.8,524.7 1356.7,524.4 1400.0,524.3 C1443.3,524.2 1529.3,524.0 1560.0,524.3 C1590.7,524.6 1576.7,526.3 1584.0,526.1 C1591.3,525.9 1597.2,523.7 1604.0,523.2 C1610.8,522.7 1615.7,522.8 1625.0,523.0 C1634.3,523.2 1647.0,523.7 1660.0,524.1 C1673.0,524.5 1695.8,525.2 1703.0,525.5" stroke="#800000" class="ln"/></g></g>
<g stroke="#000" stroke-width="4.5" fill="none" class="ax"><line x1="122.5" y1="609.5" x2="109.0" y2="609.5"/>
<text class="tk" transform="translate(100.0,621.0) scale(0.967,1.13)" text-anchor="end">0.0</text>
<line x1="122.5" y1="550.1" x2="115.0" y2="550.1"/>
<line x1="122.5" y1="490.7" x2="109.0" y2="490.7"/>
<text class="tk" transform="translate(100.0,502.2) scale(0.967,1.13)" text-anchor="end">0.2</text>
<line x1="122.5" y1="431.3" x2="115.0" y2="431.3"/>
<line x1="122.5" y1="371.9" x2="109.0" y2="371.9"/>
<text class="tk" transform="translate(100.0,383.4) scale(0.967,1.13)" text-anchor="end">0.4</text>
<line x1="122.5" y1="312.5" x2="115.0" y2="312.5"/>
<line x1="122.5" y1="253.1" x2="109.0" y2="253.1"/>
<text class="tk" transform="translate(100.0,264.6) scale(0.967,1.13)" text-anchor="end">0.6</text>
<line x1="122.5" y1="193.7" x2="115.0" y2="193.7"/>
<line x1="122.5" y1="134.3" x2="109.0" y2="134.3"/>
<text class="tk" transform="translate(100.0,145.8) scale(0.967,1.13)" text-anchor="end">0.8</text>
<line x1="122.5" y1="74.9" x2="115.0" y2="74.9"/>
<line x1="122.5" y1="15.5" x2="109.0" y2="15.5"/>
<text class="tk" transform="translate(100.0,27.0) scale(0.967,1.13)" text-anchor="end">1.0</text>
<line x1="122.5" y1="609.5" x2="122.5" y2="623.5"/>
<text class="tk" transform="translate(123.1,663.0) scale(0.99,1.125)" text-anchor="middle">2</text>
<line x1="171.6" y1="609.5" x2="171.6" y2="617.5"/>
<line x1="220.8" y1="609.5" x2="220.8" y2="623.5"/>
<text class="tk" transform="translate(221.4,663.0) scale(0.99,1.125)" text-anchor="middle">4</text>
<line x1="269.9" y1="609.5" x2="269.9" y2="617.5"/>
<line x1="319.1" y1="609.5" x2="319.1" y2="623.5"/>
<text class="tk" transform="translate(319.7,663.0) scale(0.99,1.125)" text-anchor="middle">6</text>
<line x1="368.2" y1="609.5" x2="368.2" y2="617.5"/>
<line x1="417.4" y1="609.5" x2="417.4" y2="623.5"/>
<text class="tk" transform="translate(418.0,663.0) scale(0.99,1.125)" text-anchor="middle">8</text>
<line x1="466.5" y1="609.5" x2="466.5" y2="617.5"/>
<line x1="515.6" y1="609.5" x2="515.6" y2="623.5"/>
<text class="tk" transform="translate(516.2,663.0) scale(0.99,1.125)" text-anchor="middle">10</text>
<line x1="564.8" y1="609.5" x2="564.8" y2="617.5"/>
<line x1="613.9" y1="609.5" x2="613.9" y2="623.5"/>
<text class="tk" transform="translate(614.5,663.0) scale(0.99,1.125)" text-anchor="middle">12</text>
<line x1="663.1" y1="609.5" x2="663.1" y2="617.5"/>
<line x1="712.2" y1="609.5" x2="712.2" y2="623.5"/>
<text class="tk" transform="translate(712.8,663.0) scale(0.99,1.125)" text-anchor="middle">14</text>
<line x1="761.4" y1="609.5" x2="761.4" y2="617.5"/>
<line x1="810.5" y1="609.5" x2="810.5" y2="623.5"/>
<text class="tk" transform="translate(811.1,663.0) scale(0.99,1.125)" text-anchor="middle">16</text>
<rect x="122.5" y="15.5" width="688.0" height="594.0" fill="none"/>
<text class="ti" transform="translate(466.1,730.2) scale(0.941,1.03)" text-anchor="middle">Frequency (GHz)</text>
<text class="ti" style="font-size:46.5px" transform="translate(397.8,780.6) scale(0.985,1)" text-anchor="middle">(a)</text>
<text class="ti" style="font-size:51px" transform="translate(35.0,312.7) rotate(-90)" text-anchor="middle">Transmission</text></g>
<g stroke="#000" stroke-width="4.5" fill="none" class="ax"><line x1="1013.0" y1="612.5" x2="999.5" y2="612.5"/>
<text class="tk" transform="translate(990.5,624.0) scale(0.967,1.13)" text-anchor="end">0.0</text>
<line x1="1013.0" y1="552.8" x2="1005.5" y2="552.8"/>
<line x1="1013.0" y1="493.1" x2="999.5" y2="493.1"/>
<text class="tk" transform="translate(990.5,504.6) scale(0.967,1.13)" text-anchor="end">0.2</text>
<line x1="1013.0" y1="433.4" x2="1005.5" y2="433.4"/>
<line x1="1013.0" y1="373.7" x2="999.5" y2="373.7"/>
<text class="tk" transform="translate(990.5,385.2) scale(0.967,1.13)" text-anchor="end">0.4</text>
<line x1="1013.0" y1="313.9" x2="1005.5" y2="313.9"/>
<line x1="1013.0" y1="254.2" x2="999.5" y2="254.2"/>
<text class="tk" transform="translate(990.5,265.7) scale(0.967,1.13)" text-anchor="end">0.6</text>
<line x1="1013.0" y1="194.5" x2="1005.5" y2="194.5"/>
<line x1="1013.0" y1="134.8" x2="999.5" y2="134.8"/>
<text class="tk" transform="translate(990.5,146.3) scale(0.967,1.13)" text-anchor="end">0.8</text>
<line x1="1013.0" y1="75.1" x2="1005.5" y2="75.1"/>
<line x1="1013.0" y1="15.4" x2="999.5" y2="15.4"/>
<text class="tk" transform="translate(990.5,26.9) scale(0.967,1.13)" text-anchor="end">1.0</text>
<line x1="1013.0" y1="612.5" x2="1013.0" y2="626.5"/>
<text class="tk" transform="translate(1013.6,665.5) scale(0.99,1.125)" text-anchor="middle">2</text>
<line x1="1062.2" y1="612.5" x2="1062.2" y2="620.5"/>
<line x1="1111.4" y1="612.5" x2="1111.4" y2="626.5"/>
<text class="tk" transform="translate(1112.0,665.5) scale(0.99,1.125)" text-anchor="middle">4</text>
<line x1="1160.6" y1="612.5" x2="1160.6" y2="620.5"/>
<line x1="1209.9" y1="612.5" x2="1209.9" y2="626.5"/>
<text class="tk" transform="translate(1210.5,665.5) scale(0.99,1.125)" text-anchor="middle">6</text>
<line x1="1259.1" y1="612.5" x2="1259.1" y2="620.5"/>
<line x1="1308.3" y1="612.5" x2="1308.3" y2="626.5"/>
<text class="tk" transform="translate(1308.9,665.5) scale(0.99,1.125)" text-anchor="middle">8</text>
<line x1="1357.5" y1="612.5" x2="1357.5" y2="620.5"/>
<line x1="1406.7" y1="612.5" x2="1406.7" y2="626.5"/>
<text class="tk" transform="translate(1407.3,665.5) scale(0.99,1.125)" text-anchor="middle">10</text>
<line x1="1455.9" y1="612.5" x2="1455.9" y2="620.5"/>
<line x1="1505.1" y1="612.5" x2="1505.1" y2="626.5"/>
<text class="tk" transform="translate(1505.7,665.5) scale(0.99,1.125)" text-anchor="middle">12</text>
<line x1="1554.4" y1="612.5" x2="1554.4" y2="620.5"/>
<line x1="1603.6" y1="612.5" x2="1603.6" y2="626.5"/>
<text class="tk" transform="translate(1604.2,665.5) scale(0.99,1.125)" text-anchor="middle">14</text>
<line x1="1652.8" y1="612.5" x2="1652.8" y2="620.5"/>
<line x1="1702.0" y1="612.5" x2="1702.0" y2="626.5"/>
<text class="tk" transform="translate(1702.6,665.5) scale(0.99,1.125)" text-anchor="middle">16</text>
<rect x="1013.0" y="15.4" width="689.0" height="597.1" fill="none"/>
<text class="ti" transform="translate(1357.4,732.4) scale(0.941,1.03)" text-anchor="middle">Frequency (GHz)</text>
<text class="ti" style="font-size:46.5px" transform="translate(1313.5,782.7) scale(0.985,1)" text-anchor="middle">(b)</text>
<text class="ti" style="font-size:51px" transform="translate(925.0,314.0) rotate(-90)" text-anchor="middle">Transmission</text></g>
<path d="M408.5,211.2H431.3M462.9,211.2H472.2" stroke="#000000" class="ln" style="stroke-width:5.5"/>
<text class="lg" transform="translate(481.9,222.5) scale(1.005,1.128)">0°-Mea</text>
<path d="M408.5,256.8H431.3M462.9,256.8H472.2" stroke="#ff0000" class="ln" style="stroke-width:5.5"/>
<text class="lg" transform="translate(481.9,268.1) scale(1.005,1.128)">15°-Mea</text>
<path d="M408.5,302.4H431.3M462.9,302.4H472.2" stroke="#0000ff" class="ln" style="stroke-width:5.5"/>
<text class="lg" transform="translate(481.9,313.7) scale(1.005,1.128)">30°-Mea</text>
<path d="M408.5,348.0H431.3M462.9,348.0H472.2" stroke="#00e000" class="ln" style="stroke-width:5.5"/>
<text class="lg" transform="translate(481.9,359.3) scale(1.005,1.128)">45°-Mea</text>
<path d="M408.5,393.6H472.0" stroke="#ff80ff" class="ln" style="stroke-width:5.5"/>
<text class="lg" transform="translate(481.9,404.9) scale(1.005,1.128)">0°-Sim</text>
<path d="M408.5,439.2H472.0" stroke="#ff8000" class="ln" style="stroke-width:5.5"/>
<text class="lg" transform="translate(481.9,450.5) scale(1.005,1.128)">15°-Sim</text>
<path d="M408.5,484.8H472.0" stroke="#008000" class="ln" style="stroke-width:5.5"/>
<text class="lg" transform="translate(481.9,496.1) scale(1.005,1.128)">30°-Sim</text>
<path d="M408.5,530.4H472.0" stroke="#800000" class="ln" style="stroke-width:5.5"/>
<text class="lg" transform="translate(481.9,541.7) scale(1.005,1.128)">45°-Sim</text>
<path d="M1299.6,193.1H1322.4M1354.0,193.1H1363.3" stroke="#000000" class="ln" style="stroke-width:5.5"/>
<text class="lg" transform="translate(1373.0,204.4) scale(1.005,1.128)">0°-Mea</text>
<path d="M1299.6,239.0H1322.4M1354.0,239.0H1363.3" stroke="#ff0000" class="ln" style="stroke-width:5.5"/>
<text class="lg" transform="translate(1373.0,250.3) scale(1.005,1.128)">15°-Mea</text>
<path d="M1299.6,284.9H1322.4M1354.0,284.9H1363.3" stroke="#0000ff" class="ln" style="stroke-width:5.5"/>
<text class="lg" transform="translate(1373.0,296.2) scale(1.005,1.128)">30°-Mea</text>
<path d="M1299.6,330.8H1322.4M1354.0,330.8H1363.3" stroke="#00e000" class="ln" style="stroke-width:5.5"/>
<text class="lg" transform="translate(1373.0,342.1) scale(1.005,1.128)">45°-Mea</text>
<path d="M1299.6,376.7H1363.1" stroke="#ff80ff" class="ln" style="stroke-width:5.5"/>
<text class="lg" transform="translate(1373.0,388.0) scale(1.005,1.128)">0°-Sim</text>
<path d="M1299.6,422.6H1363.1" stroke="#ff8000" class="ln" style="stroke-width:5.5"/>
<text class="lg" transform="translate(1373.0,433.9) scale(1.005,1.128)">15°-Sim</text>
<path d="M1299.6,468.5H1363.1" stroke="#008000" class="ln" style="stroke-width:5.5"/>
<text class="lg" transform="translate(1373.0,479.8) scale(1.005,1.128)">30°-Sim</text>
<path d="M1299.6,514.4H1363.1" stroke="#800000" class="ln" style="stroke-width:5.5"/>
<text class="lg" transform="translate(1373.0,525.7) scale(1.005,1.128)">45°-Sim</text>
<text class="an" x="251.8" y="90.8">T</text>
<text class="an" x="274.8" y="75.8">f</text>
<text class="an" x="274.3" y="100.8">yx</text>
<ellipse transform="scale(1,1.1)" cx="364.9" cy="157.27" rx="46.3" ry="21.27" fill="none" stroke="#000" stroke-width="3.5"/>
<line x1="324.5" y1="159.2" x2="300.8" y2="131.4" stroke="#000" stroke-width="4"/>
<path d="M283.3,110.8L309.2,129.5L297.6,139.3Z" fill="#000"/>
<text class="an" x="298.9" y="503.8">T</text>
<text class="an" x="321.9" y="488.8">f</text>
<text class="an" x="321.4" y="513.8">xy</text>
<ellipse transform="scale(1,1.1)" cx="261.2" cy="528.73" rx="35.6" ry="20.18" fill="none" stroke="#000" stroke-width="3.5"/>
<line x1="255.2" y1="557.7" x2="287.1" y2="524.1" stroke="#000" stroke-width="4"/>
<path d="M305.7,504.5L289.9,532.2L278.8,521.8Z" fill="#000"/>
<text class="an" x="1095.9" y="164.2">T</text>
<text class="an" x="1118.9" y="149.2">b</text>
<text class="an" x="1118.4" y="174.2">xy</text>
<ellipse transform="scale(1,1.1)" cx="1237.2" cy="221.18" rx="49.5" ry="26.36" fill="none" stroke="#000" stroke-width="3.5"/>
<line x1="1196.2" y1="222.8" x2="1174.8" y2="202.6" stroke="#000" stroke-width="4"/>
<path d="M1155.2,184.0L1182.9,199.8L1172.5,210.8Z" fill="#000"/>
<text class="an" x="1199.0" y="505.1">T</text>
<text class="an" x="1222.0" y="490.1">b</text>
<text class="an" x="1221.5" y="515.1">yx</text>
<ellipse transform="scale(1,1.1)" cx="1169.2" cy="532.00" rx="31.7" ry="18.27" fill="none" stroke="#000" stroke-width="3.5"/>
<line x1="1161.5" y1="562.4" x2="1178.3" y2="535.3" stroke="#000" stroke-width="4"/>
<path d="M1192.5,512.4L1182.6,542.8L1169.7,534.7Z" fill="#000"/>
</svg>
</body></html>
